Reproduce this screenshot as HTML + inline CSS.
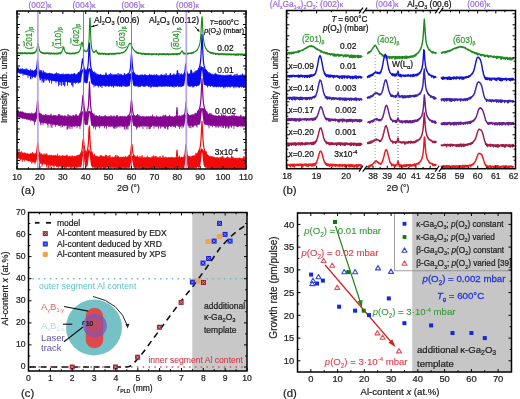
<!DOCTYPE html>
<html><head><meta charset="utf-8"><style>
html,body{margin:0;padding:0;background:#fff;}
svg{display:block;font-family:"Liberation Sans",sans-serif;filter:blur(0.35px);}
</style></head><body>
<svg xmlns="http://www.w3.org/2000/svg" width="520" height="399" viewBox="0 0 520 399">
<rect width="520" height="399" fill="#fff"/>
<clipPath id="ca"><rect x="17" y="11" width="229" height="158"/></clipPath>
<clipPath id="cb"><rect x="286.5" y="10.5" width="229" height="158.3"/></clipPath>
<polyline points="17,52.7 17.4,53.3 17.7,52.6 18.1,53.7 18.4,52.6 18.8,53.7 19.1,52.8 19.5,53.3 19.8,52.8 20.2,54 20.5,52.7 20.9,53.8 21.2,52.9 21.6,53.6 21.9,52.6 22.3,54 22.6,52.7 23,53.3 23.3,53 23.7,53.4 24,52.9 24.4,53.6 24.7,52.6 25.1,53.3 25.4,52.9 25.8,53.6 26.1,52.9 26.5,53.7 26.8,53 27.2,53.9 27.5,52.9 27.9,53.7 28.2,52.9 28.6,53.5 28.9,52.7 29.3,53.6 29.6,52.7 30,53.6 30.3,52.9 30.7,53.9 31,52.9 31.4,53.4 31.7,52.8 32.1,53.6 32.4,52.8 32.8,53.8 33.1,52.7 33.5,52.9 33.8,52.5 34.2,53.5 34.5,52.2 34.9,52.7 35.2,51.7 35.6,52.2 35.9,51.1 36.3,50.9 36.6,49.6 37,48.7 37.3,46.6 37.7,44.6 38,43.4 38.4,44.8 38.7,46.6 39.1,48.7 39.4,49.7 39.8,51.4 40.1,51.1 40.5,52.1 40.8,51.8 41.2,52.9 41.5,52.2 41.9,52.8 42.2,52.5 42.6,53.5 42.9,52.8 43.3,53.6 43.6,52.9 44,53.2 44.3,53 44.7,54 45,52.9 45.4,53.7 45.7,53 46.1,53.4 46.4,52.8 46.8,53.5 47.1,52.8 47.5,53.4 47.8,52.8 48.2,53.8 48.5,53.2 48.9,54 49.2,52.9 49.6,53.8 49.9,52.9 50.3,54.2 50.6,53.1 51,53.9 51.3,52.9 51.7,53.8 52,53.2 52.4,53.6 52.7,53.3 53.1,54 53.4,53.1 53.8,53.5 54.1,53.3 54.5,54.3 54.8,53 55.2,53.8 55.5,53.2 55.9,54 56.2,53 56.6,53.6 56.9,53.3 57.3,54.2 57.6,53.2 58,54 58.3,53 58.7,53.6 59,52.7 59.4,53.5 59.7,52.9 60.1,53.9 60.4,52.8 60.8,53.6 61.1,52.2 61.5,52.4 61.8,51.4 62.2,51.2 62.5,50 62.9,49.1 63.2,47.2 63.6,47.1 63.9,47.6 64.3,49.6 64.6,50.3 65,51.6 65.3,51.8 65.7,52.6 66,52.5 66.4,53.2 66.7,52.8 67.1,53.7 67.4,52.7 67.8,53.4 68.1,53.1 68.5,53.5 68.8,53.2 69.2,54 69.5,53.1 69.9,53.5 70.2,53.3 70.6,54 70.9,53.3 71.3,53.8 71.6,53.2 72,53.6 72.3,53 72.7,53.6 73,52.9 73.4,53.8 73.7,53.2 74.1,53.6 74.4,53 74.8,54 75.1,53.1 75.5,53.6 75.8,52.8 76.1,53.1 76.5,52.5 76.8,52.9 77.2,52.3 77.5,53 77.9,52.2 78.2,52.5 78.6,51.7 78.9,52.1 79.3,50.9 79.6,50.7 80,49.7 80.3,49 80.7,47.3 81,46 81.4,43.8 81.7,42.7 82.1,42.2 82.4,43.3 82.8,44.7 83.1,46.9 83.5,47.9 83.8,49.6 84.2,49.8 84.5,51 84.9,50.6 85.2,51.3 85.6,51 85.9,51.6 86.3,51.2 86.6,51.7 87,50.7 87.3,51 87.7,49.6 88,49.2 88.4,46.9 88.7,44.5 89.1,39 89.4,30.3 89.8,18.8 90.1,17.8 90.5,28.6 90.8,38.3 91.2,43.8 91.5,47.1 91.9,48.8 92.2,50.2 92.6,50.7 92.9,51.8 93.3,51.7 93.6,52.6 94,51.8 94.3,52.4 94.7,51.9 95,52 95.4,50.9 95.7,50.9 96.1,50 96.4,51.1 96.8,51.6 97.1,53 97.5,52.4 97.8,53.7 98.2,52.8 98.5,54.2 98.9,53.3 99.2,53.6 99.6,53.1 99.9,54.4 100.3,53.3 100.6,54.2 101,53.3 101.3,53.9 101.7,53.3 102,53.9 102.4,53.3 102.7,54 103.1,53.4 103.4,54.5 103.8,53.5 104.1,54 104.5,53.3 104.8,54.1 105.2,53.6 105.5,54.4 105.9,53.5 106.2,54.7 106.6,53.7 106.9,54.3 107.3,53.7 107.6,54.3 108,53.6 108.3,54.8 108.7,53.7 109,54.5 109.4,53.5 109.7,54.2 110.1,53.3 110.4,53.9 110.8,53.4 111.1,54 111.5,53.6 111.8,54.6 112.2,53.4 112.5,54 112.9,53.4 113.2,53.9 113.6,53.3 113.9,54.6 114.3,53.4 114.6,54 115,53.3 115.3,54 115.7,53.3 116,54.1 116.4,53.2 116.7,54 117.1,53.1 117.4,53.6 117.8,53 118.1,53.5 118.5,53 118.8,53.9 119.2,53.1 119.5,53.8 119.9,53.1 120.2,53.5 120.6,53 120.9,53.2 121.3,52.7 121.6,52.9 122,52.6 122.3,53.1 122.7,52.4 123,52.5 123.4,52 123.7,52.6 124.1,51.7 124.4,52 124.8,51.2 125.1,51.5 125.5,50.4 125.8,50.4 126.2,49.6 126.5,49.8 126.9,48.7 127.2,48.4 127.6,47.3 127.9,46.7 128.3,45.8 128.6,45.2 129,44.3 129.3,43.8 129.7,43.3 130,43.3 130.4,43.4 130.7,44 131.1,44.5 131.4,45.5 131.8,46 132.1,47.2 132.5,47.6 132.8,48.6 133.2,48.8 133.5,49.7 133.9,49.8 134.2,50.8 134.6,50.5 134.9,51.3 135.3,51.3 135.6,52.1 136,51.7 136.3,52.5 136.7,51.9 137,53.1 137.4,52.5 137.7,53.4 138.1,52.5 138.4,53.6 138.8,52.7 139.1,53.3 139.5,53.1 139.8,53.4 140.2,52.9 140.5,53.8 140.9,53 141.2,54.2 141.6,53.4 141.9,54.2 142.3,53.4 142.6,54.1 143,53.1 143.3,54.1 143.7,53.3 144,53.9 144.4,53.4 144.7,54.5 145.1,53.6 145.4,54.6 145.8,53.7 146.1,54.5 146.5,53.5 146.8,54.2 147.2,53.8 147.5,54.5 147.9,53.6 148.2,54.2 148.6,53.4 148.9,54.7 149.3,53.8 149.6,54.2 150,53.7 150.3,54.2 150.7,53.9 151,54.8 151.4,53.7 151.7,54.9 152.1,53.7 152.4,54.7 152.8,53.8 153.1,54.5 153.5,53.8 153.8,54.4 154.2,53.9 154.5,54.2 154.9,53.7 155.2,54.4 155.6,54 155.9,54.4 156.3,53.7 156.6,54.7 157,53.6 157.3,54.3 157.7,54 158,54.6 158.4,54 158.7,55.1 159.1,53.6 159.4,54.3 159.8,53.7 160.1,54.3 160.5,53.7 160.8,54.7 161.2,53.9 161.5,54.6 161.9,53.8 162.2,54.5 162.6,53.6 162.9,54.4 163.3,53.6 163.6,54.6 164,54 164.3,54.4 164.7,53.7 165,54.5 165.4,54 165.7,55 166.1,53.6 166.4,54.2 166.8,54 167.1,54.6 167.5,53.6 167.8,54.5 168.2,53.9 168.5,55 168.9,53.7 169.2,54.3 169.6,53.8 169.9,54.8 170.3,53.9 170.6,54.7 171,53.8 171.3,54.7 171.7,53.9 172,54.4 172.4,53.8 172.7,54.4 173.1,53.6 173.4,54.7 173.8,53.6 174.1,54.2 174.5,53.8 174.8,54.4 175.2,53.8 175.5,54.1 175.9,53.7 176.2,54.9 176.6,53.8 176.9,54.4 177.3,53.5 177.6,54.8 178,53.5 178.3,53.9 178.7,53.6 179,54.1 179.4,53.4 179.7,54.3 180.1,52.9 180.4,53.5 180.8,52.6 181.1,52.4 181.5,51.4 181.8,51.1 182.2,50.8 182.5,51.8 182.9,52 183.2,53 183.6,52.7 183.9,54.1 184.3,53 184.6,53.7 185,53.3 185.3,54.4 185.7,53.2 186,53.8 186.4,53.1 186.7,53.7 187.1,53.2 187.4,54.3 187.8,53.3 188.1,54.3 188.5,53.1 188.8,53.6 189.2,53.2 189.5,53.4 189.9,53 190.2,53.6 190.6,52.8 190.9,53.2 191.3,52.7 191.6,53.7 192,52.8 192.3,53 192.7,52.6 193,53.2 193.4,52.1 193.7,52.7 194.1,52.1 194.4,52.2 194.8,51.7 195.1,51.7 195.5,51.3 195.8,51.6 196.2,50.6 196.5,50.6 196.9,49.9 197.2,50.1 197.6,49.1 197.9,48.9 198.3,48 198.6,47.4 199,46.3 199.3,45.5 199.7,43.9 200,42.5 200.4,39.8 200.7,36.4 201.1,31.3 201.4,24.3 201.8,17.3 202.1,16.8 202.5,23.1 202.8,30.6 203.2,35.8 203.5,39.6 203.9,41.9 204.2,44 204.6,45.1 204.9,46.5 205.3,47 205.6,48.1 206,48.5 206.3,49.3 206.7,49.6 207,50.3 207.4,50.4 207.7,51.4 208.1,50.9 208.4,51.5 208.8,51.5 209.1,52.2 209.5,51.8 209.8,52.7 210.2,52.2 210.5,53.1 210.9,52.3 211.2,53.4 211.6,52.6 211.9,53.3 212.3,52.7 212.6,53.4 213,52.8 213.3,54 213.7,53 214,53.8 214.4,53.2 214.7,53.7 215.1,53.3 215.4,54.4 215.8,53.3 216.1,54.4 216.5,53.6 216.8,53.8 217.2,53.3 217.5,54 217.9,53.6 218.2,54.7 218.6,53.7 218.9,54.4 219.3,53.8 219.6,54.8 220,53.7 220.3,54.6 220.7,53.7 221,54.2 221.4,53.6 221.7,54.6 222.1,53.6 222.4,54.2 222.8,53.9 223.1,54.3 223.5,53.7 223.8,54.9 224.2,53.7 224.5,54.3 224.9,53.9 225.2,54.8 225.6,53.7 225.9,54.9 226.3,53.8 226.6,54.6 227,53.8 227.3,54.8 227.7,53.9 228,55.1 228.4,53.9 228.7,54.5 229.1,53.8 229.4,54.4 229.8,53.9 230.1,55.1 230.5,54.2 230.8,54.8 231.2,53.8 231.5,54.9 231.9,54.2 232.2,54.5 232.6,54 232.9,54.9 233.3,53.9 233.6,54.9 234,53.9 234.3,54.9 234.7,54.3 235,54.6 235.4,54.3 235.7,55.4 236.1,53.9 236.4,55.3 236.8,54.3 237.1,55 237.5,53.9 237.8,55.2 238.2,54 238.5,55.3 238.9,53.9 239.2,54.7 239.6,54.1 239.9,54.8 240.3,54 240.6,55.2 241,53.9 241.3,55 241.7,53.9 242,55.3 242.4,54.2 242.7,55 243.1,54 243.4,54.9 243.8,54.1 244.1,55.1 244.5,54.1 244.8,54.6 245.2,54.1 245.5,54.8 245.9,54.3" fill="none" stroke="#108a10" stroke-width="1.1" stroke-linejoin="round" clip-path="url(#ca)"/>
<polygon points="17,68.4 17.5,68.1 18,67.2 18.5,69.1 19,68.7 19.5,69.5 20,69.5 20.5,68.6 21,69 21.5,68.9 22,69.8 22.5,68.4 23,69.7 23.5,69.1 24,70.1 24.5,69.2 25,70.1 25.5,69.7 26,68.5 26.5,70.6 27,68.8 27.5,70.2 28,69.9 28.5,70.2 29,70.1 29.5,71 30,70.7 30.5,68.9 31,70.9 31.5,70.5 32,70.7 32.5,70.3 33,70.6 33.5,71.3 34,70.4 34.5,70.3 35,71.1 35.5,69.3 36,70.6 36.5,70.2 37,70.5 37.5,69.9 38,71.1 38.5,70.5 39,71 39.5,71.6 40,72 40.5,70.3 41,71.7 41.5,70.2 42,71.3 42.5,72.9 43,73.1 43.5,70.5 44,73.2 44.5,72.4 45,72 45.5,72.8 46,73.5 46.5,73.1 47,73.2 47.5,73.6 48,73.6 48.5,73.4 49,73.2 49.5,73.2 50,73.1 50.5,73.8 51,73.5 51.5,73.4 52,73.8 52.5,73.8 53,74.1 53.5,74.4 54,73.9 54.5,74 55,73.9 55.5,73.7 56,73.7 56.5,72.5 57,74.8 57.5,73.8 58,73 58.5,74.2 59,74.3 59.5,74.2 60,73.9 60.5,74.5 61,74.2 61.5,74.2 62,74 62.5,74.2 63,74.5 63.5,73.6 64,74.9 64.5,74.4 65,74.8 65.5,74 66,73.9 66.5,74.1 67,74.3 67.5,74.1 68,74.1 68.5,74 69,74.4 69.5,74.2 70,74.4 70.5,74.8 71,74.3 71.5,73.8 72,74.2 72.5,74.6 73,73.8 73.5,73.9 74,73.7 74.5,73 75,73.8 75.5,74.7 76,74.6 76.5,74.3 77,74.4 77.5,73.4 78,73.2 78.5,72.1 79,73.3 79.5,71.8 80,72.2 80.5,72.1 81,70.5 81.5,70.9 82,70.2 82.5,69.4 83,68.9 83.5,69.7 84,69.4 84.5,68.8 85,69.9 85.5,71.2 86,71.3 86.5,71 87,70.8 87.5,68.2 88,69.6 88.5,69 89,68.7 89.5,68 90,69.4 90.5,69.6 91,68.6 91.5,68.7 92,70.9 92.5,72.4 93,72.2 93.5,72 94,74 94.5,71.7 95,73.7 95.5,73 96,72.7 96.5,74.5 97,74.9 97.5,73.9 98,74.3 98.5,74.7 99,74.5 99.5,75 100,74.6 100.5,74.2 101,74.8 101.5,75 102,74.9 102.5,75.3 103,74.8 103.5,75.2 104,75.2 104.5,75.3 105,74.5 105.5,74.7 106,72.5 106.5,75.1 107,74.8 107.5,75.5 108,74.7 108.5,75.3 109,74.4 109.5,74.4 110,75.5 110.5,72.9 111,75.2 111.5,74.9 112,73.8 112.5,75.5 113,75.3 113.5,74.6 114,74.8 114.5,74.8 115,74.6 115.5,74.4 116,75.5 116.5,74.3 117,75.4 117.5,75.4 118,73.1 118.5,75.5 119,74.7 119.5,75 120,73.7 120.5,75 121,74.8 121.5,74.5 122,75.3 122.5,75.3 123,75.3 123.5,75.4 124,74.5 124.5,73 125,74.5 125.5,74.9 126,74.6 126.5,74.4 127,73.9 127.5,74.1 128,73.7 128.5,73.8 129,73.9 129.5,73.9 130,74.1 130.5,73.7 131,73.4 131.5,73.4 132,73.1 132.5,72.1 133,73.3 133.5,73.3 134,72.8 134.5,74.2 135,74.6 135.5,74.7 136,74.5 136.5,75.1 137,75.3 137.5,75 138,74.8 138.5,75.5 139,75.4 139.5,75.2 140,75.1 140.5,75.1 141,74.8 141.5,75.6 142,74.5 142.5,75 143,75.2 143.5,75.3 144,75.2 144.5,74.9 145,74.2 145.5,75.2 146,74.9 146.5,75.6 147,75.1 147.5,75.7 148,75 148.5,75.6 149,75.5 149.5,73.9 150,75.3 150.5,75.1 151,75.1 151.5,75 152,75 152.5,75.2 153,75.3 153.5,75 154,74.9 154.5,74.7 155,75.6 155.5,75.3 156,75.4 156.5,74.2 157,75.3 157.5,75.2 158,75.3 158.5,75.8 159,75.7 159.5,75.7 160,75.3 160.5,75.4 161,74.3 161.5,74.5 162,75.5 162.5,75 163,75.3 163.5,74.9 164,75.6 164.5,74.7 165,75.1 165.5,75.7 166,73.3 166.5,75.2 167,75.8 167.5,75.6 168,75.2 168.5,75.5 169,75.2 169.5,75.1 170,74 170.5,73 171,74.9 171.5,75.4 172,74.7 172.5,75.1 173,75 173.5,74.8 174,73.5 174.5,75.2 175,74.8 175.5,75.1 176,75.1 176.5,74 177,72.6 177.5,72.5 178,74.6 178.5,75.1 179,73.1 179.5,74.8 180,75.4 180.5,74.5 181,73.6 181.5,73.7 182,75.2 182.5,74.6 183,74.9 183.5,74.7 184,73.3 184.5,72.3 185,73.9 185.5,73.4 186,73.9 186.5,73.7 187,73 187.5,73.8 188,74 188.5,73.9 189,73.7 189.5,73.8 190,73.8 190.5,73.5 191,73.3 191.5,72.9 192,73.1 192.5,73.4 193,73.2 193.5,72.6 194,72.9 194.5,72.7 195,71.2 195.5,73.2 196,70.3 196.5,71.6 197,71.1 197.5,70.8 198,70.1 198.5,68 199,69.5 199.5,68.7 200,67.7 200.5,67.8 201,65.9 201.5,67.1 202,67 202.5,67.6 203,67.4 203.5,67.3 204,68.7 204.5,68.9 205,69.4 205.5,69.7 206,70 206.5,70.6 207,71.5 207.5,71.6 208,72 208.5,72.9 209,72.8 209.5,72.4 210,74 210.5,73.3 211,74.3 211.5,74.2 212,73.7 212.5,74.5 213,74.4 213.5,74.6 214,74.9 214.5,74 215,73.6 215.5,73.3 216,74.5 216.5,73.8 217,75 217.5,74.6 218,75.4 218.5,74.7 219,74.6 219.5,75 220,75.1 220.5,75 221,74.7 221.5,75.4 222,75.4 222.5,75.2 223,75.1 223.5,75.4 224,75.4 224.5,75.5 225,75.7 225.5,75.2 226,75.6 226.5,74.9 227,75.4 227.5,74.8 228,75.4 228.5,75 229,75.6 229.5,74.8 230,75.3 230.5,75 231,74.5 231.5,75.2 232,76 232.5,76.1 233,76 233.5,75.6 234,75.2 234.5,75.5 235,74.1 235.5,75.7 236,76.1 236.5,75.7 237,73.6 237.5,75.5 238,75.8 238.5,75.3 239,75.4 239.5,75.4 240,75.1 240.5,75.5 241,74.5 241.5,75.7 242,75.3 242.5,73.6 243,75.7 243.5,75.6 244,74.5 244.5,75.2 245,76.2 245.5,75.4 246,76 246,86.6 245.5,86.5 245,86.5 244.5,86.8 244,86.7 243.5,87.5 243,86.7 242.5,86.5 242,87.2 241.5,87.5 241,86.2 240.5,86.5 240,87.1 239.5,87.5 239,87.5 238.5,87.2 238,86.6 237.5,87 237,86.2 236.5,86.6 236,87.5 235.5,86.8 235,86.6 234.5,86.6 234,87.2 233.5,87 233,86.3 232.5,86.2 232,86.3 231.5,86.3 231,86.4 230.5,87.4 230,86.7 229.5,86.9 229,86.5 228.5,86.5 228,86.5 227.5,87.3 227,86.4 226.5,86.5 226,86.8 225.5,87.1 225,87.3 224.5,86.5 224,87.2 223.5,87.4 223,86.3 222.5,86.9 222,86 221.5,86.4 221,86.4 220.5,87.2 220,86.8 219.5,86.1 219,87.1 218.5,87.1 218,85.9 217.5,86.6 217,86.8 216.5,87 216,87 215.5,86.7 215,85.9 214.5,86.8 214,86.8 213.5,86.9 213,86.6 212.5,86.1 212,86.1 211.5,85.7 211,85.7 210.5,86.5 210,86.4 209.5,85.4 209,85.4 208.5,85.9 208,85.5 207.5,86.3 207,85.7 206.5,85.3 206,85.5 205.5,84.8 205,85 204.5,83.9 204,84.9 203.5,83.6 203,82.4 202.5,81.1 202,81.4 201.5,81.8 201,83.1 200.5,83.5 200,83.7 199.5,84.2 199,85.5 198.5,85.2 198,85 197.5,85.9 197,86 196.5,86.1 196,86.2 195.5,85.5 195,86.1 194.5,85.9 194,86.7 193.5,86.8 193,86 192.5,86.4 192,85.6 191.5,86.2 191,85.8 190.5,86.6 190,86.7 189.5,86.1 189,86.5 188.5,85.8 188,85.8 187.5,86.2 187,85.3 186.5,85.6 186,84.7 185.5,85.2 185,85.1 184.5,85.9 184,85.8 183.5,85.6 183,86 182.5,86.1 182,86.6 181.5,86.5 181,85.9 180.5,86.7 180,86.5 179.5,86.6 179,86.6 178.5,86.9 178,86.1 177.5,85.3 177,85.7 176.5,86.8 176,86.1 175.5,86.7 175,85.8 174.5,86 174,86 173.5,86.4 173,86.2 172.5,86.8 172,86.9 171.5,85.9 171,86 170.5,86.1 170,86.2 169.5,87 169,86 168.5,86.1 168,86 167.5,86.5 167,86.1 166.5,86 166,86.5 165.5,86.1 165,86 164.5,86.1 164,86.8 163.5,85.9 163,85.8 162.5,86.4 162,86.3 161.5,86.8 161,86.7 160.5,86.1 160,85.9 159.5,85.8 159,86.8 158.5,86.3 158,85.8 157.5,87 157,87 156.5,86.1 156,86.9 155.5,86.1 155,87 154.5,86.3 154,86.9 153.5,86.8 153,85.7 152.5,86 152,86.8 151.5,86.3 151,86.2 150.5,86.8 150,86.9 149.5,85.5 149,86.7 148.5,86.6 148,86.4 147.5,85.7 147,85.7 146.5,85.6 146,85.7 145.5,85.9 145,86.7 144.5,86.2 144,86.2 143.5,86.5 143,86.4 142.5,85.8 142,85.7 141.5,85.8 141,85.6 140.5,86.8 140,86.3 139.5,86.4 139,86.7 138.5,86.8 138,85.4 137.5,86.2 137,85.7 136.5,85.4 136,86.5 135.5,85.7 135,85.8 134.5,85.8 134,86.2 133.5,85.2 133,85.4 132.5,85.2 132,84 131.5,83.4 131,83.3 130.5,84.2 130,85.4 129.5,86 129,86.3 128.5,85.9 128,86.1 127.5,86.5 127,86 126.5,86.5 126,85.4 125.5,85.4 125,86.3 124.5,86 124,86.3 123.5,86.1 123,85.6 122.5,85.5 122,86.7 121.5,86.6 121,86.8 120.5,85.7 120,86.3 119.5,86.6 119,85.8 118.5,85.9 118,86.1 117.5,86.2 117,85.9 116.5,85.4 116,86.6 115.5,85.6 115,85.5 114.5,85.5 114,86.4 113.5,86.6 113,86.7 112.5,85.3 112,85.8 111.5,86.6 111,86.2 110.5,85.6 110,85.3 109.5,86.5 109,85.5 108.5,86.6 108,85.8 107.5,85.9 107,85.2 106.5,85.4 106,85.7 105.5,85.8 105,85.5 104.5,85.9 104,86 103.5,85.3 103,85.5 102.5,86 102,85.4 101.5,85.6 101,86.4 100.5,86.3 100,86.3 99.5,85 99,85.8 98.5,85.5 98,86.1 97.5,85.7 97,85.4 96.5,85 96,84.9 95.5,85.1 95,84.4 94.5,85.2 94,85.2 93.5,84.7 93,84.6 92.5,84.4 92,83.4 91.5,83 91,82.7 90.5,82.9 90,80.5 89.5,80.2 89,80.4 88.5,81.1 88,82.5 87.5,83 87,83 86.5,83 86,82.9 85.5,82.8 85,81.9 84.5,82.6 84,81.9 83.5,81.7 83,80.4 82.5,79.9 82,80.7 81.5,81.4 81,82 80.5,82.1 80,82.7 79.5,82.4 79,82.2 78.5,82.4 78,82.4 77.5,82 77,82.2 76.5,82.7 76,82.8 75.5,82.7 75,82.7 74.5,82.6 74,82.5 73.5,82.4 73,82.7 72.5,82.7 72,82.2 71.5,82 71,82.1 70.5,82.5 70,82.1 69.5,82.4 69,81.8 68.5,82.3 68,81.9 67.5,82.4 67,81.8 66.5,81.4 66,81.7 65.5,81.7 65,81.7 64.5,81.7 64,81.3 63.5,81.3 63,81.5 62.5,82 62,81.5 61.5,81.7 61,81.6 60.5,81.6 60,81.8 59.5,81.6 59,81.6 58.5,81.3 58,81.6 57.5,80.9 57,81.4 56.5,80.8 56,80.9 55.5,81 55,81.4 54.5,80.7 54,80.9 53.5,81 53,80.5 52.5,80.8 52,80.8 51.5,80.1 51,80.6 50.5,80.2 50,79.7 49.5,80.1 49,79.6 48.5,79.4 48,79.2 47.5,79.1 47,79.7 46.5,79.2 46,78.8 45.5,79.4 45,78.8 44.5,78.6 44,78.6 43.5,78.9 43,78.2 42.5,78.1 42,78.2 41.5,78.3 41,77.9 40.5,77.7 40,77.7 39.5,77.9 39,77.7 38.5,77.3 38,76 37.5,75.3 37,76.1 36.5,76.8 36,76.7 35.5,77 35,76.6 34.5,76.9 34,76.8 33.5,76.4 33,76.4 32.5,76.6 32,75.8 31.5,75.7 31,76.2 30.5,75.8 30,75.8 29.5,75.3 29,75.4 28.5,75.3 28,75.1 27.5,74.8 27,75 26.5,74.9 26,74.5 25.5,74.5 25,74.7 24.5,74.4 24,74.2 23.5,74.1 23,73.7 22.5,73.6 22,73.5 21.5,73.3 21,73.2 20.5,73.5 20,73.4 19.5,73.2 19,72.7 18.5,72.6 18,72.5 17.5,72.3 17,72.4" fill="#0a0af0" stroke="#0a0af0" stroke-width="0.6" stroke-linejoin="round" clip-path="url(#ca)"/>
<path d="M37.6,72.5L35.6,78.5L39.6,78.5Z" fill="#fff" clip-path="url(#ca)"/>
<path d="M82.5,71.3L80.5,84.4L84.5,84.4Z" fill="#fff" clip-path="url(#ca)"/>
<path d="M89.3,70.6L87.3,85.4L91.3,85.4Z" fill="#fff" clip-path="url(#ca)"/>
<path d="M131.5,75.7L129.5,87.3L133.5,87.3Z" fill="#fff" clip-path="url(#ca)"/>
<path d="M185.8,75.5L183.8,87.7L187.8,87.7Z" fill="#fff" clip-path="url(#ca)"/>
<path d="M202,69.1L200,87.8L204,87.8Z" fill="#fff" clip-path="url(#ca)"/>
<polyline points="35.5,70.7 36,70.1 36.5,68.6 37,65.7 37.5,59.5 38,63.4 38.5,68.3 39,70.2 39.5,71.1" fill="none" stroke="#0a0af0" stroke-width="1.2" stroke-linejoin="round" clip-path="url(#ca)"/>
<polyline points="79.5,72.3 80,72 80.5,71.5 81,69.6 81.5,67.1 82,62.4 82.5,58.8 83,61.6 83.5,65.5 84,68.1 84.5,69.5 85,70 85.5,70.9 86,70.9 86.5,70.3 87,69.5 87.5,68.6 88,65.8 88.5,59.6 89,45.7 89.5,43 90,57.5 90.5,64.8 91,68 91.5,70.5 92,71 92.5,71.9 93,73" fill="none" stroke="#0a0af0" stroke-width="1.2" stroke-linejoin="round" clip-path="url(#ca)"/>
<polyline points="127.5,74.2 128,73.7 128.5,73.5 129,73.1 129.5,71.9 130,70.5 130.5,67.4 131,59.9 131.5,53.9 132,60.1 132.5,66.6 133,70.4 133.5,72.4 134,73 134.5,73.7 135,74.5 135.5,74.3" fill="none" stroke="#0a0af0" stroke-width="1.2" stroke-linejoin="round" clip-path="url(#ca)"/>
<polyline points="177,72.3 177.5,70.6 178,74.6" fill="none" stroke="#0a0af0" stroke-width="1.2" stroke-linejoin="round" clip-path="url(#ca)"/>
<polyline points="183.5,74 184,74.1 184.5,73.1 185,71 185.5,65.5 186,63.7 186.5,70.1 187,72.6 187.5,73.8 188,73.5" fill="none" stroke="#0a0af0" stroke-width="1.2" stroke-linejoin="round" clip-path="url(#ca)"/>
<polyline points="190.5,73.5 191,70 191.5,70.9 192,73" fill="none" stroke="#0a0af0" stroke-width="1.2" stroke-linejoin="round" clip-path="url(#ca)"/>
<polyline points="197,71.7 197.5,70.8 198,70.6 198.5,69.7 199,68.4 199.5,67.1 200,65 200.5,61.5 201,55.8 201.5,44.2 202,34.7 202.5,44 203,55.4 203.5,62.1 204,65.4 204.5,67.2 205,68.8 205.5,69.4 206,70.3 206.5,71.1 207,71.5" fill="none" stroke="#0a0af0" stroke-width="1.2" stroke-linejoin="round" clip-path="url(#ca)"/>
<path d="M23,73.2V75.8M28,74.6V78.1M29.5,74.8V76.2M30.5,75.3V79.3M31,75.7V79.1M31.5,75.2V76.8M32.5,76.1V78.3M35,76.1V78M40,77.2V80.4M40.5,77.2V80.1M41,77.4V78.5M42,77.7V82.6M42.5,77.6V80.8M43,77.7V80.7M43.5,78.4V82.5M44,78.1V82.4M45,78.3V80.9M46.5,78.7V80.6M48.5,78.9V80.7M49,79.1V80.4M49.5,79.6V82.9M51.5,79.6V83.7M56,80.4V83.2M58.5,80.8V86.3M59,81.1V84.8M60,81.3V85M61,81.1V83M61.5,81.2V86M63,81V85.2M63.5,80.8V84.8M64.5,81.2V86.6M65,81.2V85.5M67.5,81.9V85.7M71.5,81.5V85.3M72.5,82.2V85.9M73,82.2V87.3M75.5,82.2V83.8M78.5,81.9V83.6M94,84.7V87.4M95.5,84.6V86.3M96,84.4V85.9M98.5,85V87.5M102,84.9V88M105.5,85.3V86.8M106.5,84.9V86.3M113.5,86.1V87.8M125.5,84.9V86.8M138,84.9V87M151,85.7V88.2M174,85.5V87.8M193,85.5V87.8M207.5,85.8V87.4M224,86.7V88.6M234,86.7V88.4" stroke="#0a0af0" stroke-width="0.8" fill="none" clip-path="url(#ca)"/>
<polygon points="17,111.5 17.5,110.3 18,110.2 18.5,111.8 19,111.4 19.5,111.9 20,112 20.5,111.4 21,111.5 21.5,112 22,111.6 22.5,111.8 23,111.9 23.5,112.1 24,112.9 24.5,113.1 25,112.8 25.5,113 26,113 26.5,113.4 27,113.3 27.5,113.4 28,113.1 28.5,113.5 29,112.9 29.5,113.8 30,113.7 30.5,113.8 31,113.9 31.5,112.7 32,114 32.5,113.4 33,113.8 33.5,113.9 34,113.2 34.5,113.2 35,113.2 35.5,113.1 36,113.5 36.5,112.2 37,113.4 37.5,113.2 38,113.7 38.5,113.4 39,113.5 39.5,113.8 40,113 40.5,114.3 41,113.9 41.5,113.8 42,114.7 42.5,115.2 43,115.5 43.5,114.8 44,114.8 44.5,115.4 45,115.6 45.5,114 46,115.7 46.5,114.8 47,115 47.5,115 48,115.7 48.5,114.9 49,115.6 49.5,115.9 50,115.1 50.5,115.5 51,113.8 51.5,115.4 52,115.7 52.5,115.9 53,115.4 53.5,115.2 54,115.8 54.5,115.1 55,115.9 55.5,115.4 56,115.3 56.5,116.2 57,115.9 57.5,116 58,115.9 58.5,114 59,115.7 59.5,114.2 60,115.4 60.5,115.4 61,116.1 61.5,115.6 62,116.3 62.5,115.4 63,116.2 63.5,116 64,116.6 64.5,115.4 65,116.3 65.5,115.7 66,116.4 66.5,116.4 67,116.4 67.5,116.7 68,114 68.5,115.9 69,116.8 69.5,116 70,115 70.5,116.8 71,116 71.5,115.9 72,116.5 72.5,116.5 73,115 73.5,115.6 74,115.6 74.5,116 75,116.3 75.5,114.6 76,116 76.5,114.3 77,115.7 77.5,115.9 78,116.1 78.5,115.9 79,115.5 79.5,114.2 80,113.6 80.5,113.7 81,112.7 81.5,112 82,112.2 82.5,111.6 83,111.4 83.5,111.3 84,111 84.5,111.4 85,112.8 85.5,112.3 86,112.9 86.5,113.2 87,112.3 87.5,112.8 88,111.3 88.5,111.1 89,111.2 89.5,111 90,111.2 90.5,111.9 91,111.9 91.5,112.7 92,113.6 92.5,113.6 93,114.2 93.5,115.3 94,113.6 94.5,115.4 95,115.8 95.5,115.8 96,115.5 96.5,115.6 97,115.8 97.5,116.6 98,115.8 98.5,117 99,116.6 99.5,114.9 100,116.5 100.5,116.9 101,116.5 101.5,116.1 102,116.1 102.5,117 103,116.3 103.5,116.8 104,116.2 104.5,116.8 105,115.2 105.5,116.3 106,115.9 106.5,116.6 107,116.4 107.5,116.7 108,117.1 108.5,116.3 109,116.3 109.5,116.1 110,117.3 110.5,117 111,115.3 111.5,116.4 112,116.5 112.5,116.2 113,116.9 113.5,116.7 114,115.6 114.5,116.4 115,116.3 115.5,117.2 116,116.4 116.5,115.2 117,117 117.5,115 118,116.8 118.5,116.9 119,117.3 119.5,116.5 120,116.1 120.5,116.1 121,116.8 121.5,116.2 122,116.7 122.5,116.3 123,116.5 123.5,117.2 124,116.1 124.5,116.3 125,116.4 125.5,116.7 126,116.6 126.5,116.9 127,116.4 127.5,115.8 128,115.4 128.5,115.9 129,115.5 129.5,115.9 130,115.8 130.5,115.8 131,115.5 131.5,115 132,115.2 132.5,115.8 133,115.2 133.5,115.5 134,115.6 134.5,115.9 135,115.7 135.5,116.5 136,115.7 136.5,115.1 137,116.1 137.5,114 138,116.3 138.5,116.5 139,114.7 139.5,116.9 140,116.2 140.5,116.2 141,116.3 141.5,116.7 142,117 142.5,115.9 143,116.8 143.5,116.7 144,116.3 144.5,116.8 145,116.9 145.5,117 146,117 146.5,116.1 147,116.7 147.5,116.6 148,116.7 148.5,116.4 149,116.4 149.5,116.7 150,116.6 150.5,116.2 151,116.1 151.5,116.6 152,117 152.5,114.6 153,116.3 153.5,116.7 154,117 154.5,116.4 155,117 155.5,117.2 156,116.9 156.5,115.5 157,116.4 157.5,117.1 158,116.5 158.5,117.1 159,116.8 159.5,117.1 160,116.5 160.5,116.3 161,117.1 161.5,117 162,117 162.5,115.7 163,116.4 163.5,116.2 164,115 164.5,116.4 165,116.2 165.5,114.7 166,116.1 166.5,116.5 167,116.7 167.5,116.8 168,116.1 168.5,116.5 169,116.2 169.5,114.9 170,116.4 170.5,116.5 171,116.2 171.5,117 172,116.7 172.5,116.3 173,116.5 173.5,117 174,116.9 174.5,116.2 175,116.3 175.5,116.2 176,116 176.5,114.7 177,114.4 177.5,115.3 178,115.4 178.5,116.2 179,116.4 179.5,115.6 180,115.6 180.5,116.1 181,116.4 181.5,115.9 182,114.8 182.5,115.5 183,115.7 183.5,114.8 184,115.6 184.5,114.6 185,115.2 185.5,115 186,114.5 186.5,114.8 187,114.4 187.5,114.8 188,114.6 188.5,114.5 189,115.1 189.5,115.8 190,115.2 190.5,115.2 191,115.3 191.5,114.8 192,114.6 192.5,114.5 193,115.4 193.5,114.3 194,114.9 194.5,114.8 195,112.9 195.5,113.3 196,113.7 196.5,113.1 197,113.3 197.5,111.8 198,111 198.5,110.7 199,110.7 199.5,110.3 200,108.9 200.5,108.2 201,107.9 201.5,108.3 202,108.7 202.5,108.1 203,108.8 203.5,108.6 204,108.9 204.5,108.4 205,110.6 205.5,110.7 206,111 206.5,112.1 207,111.6 207.5,113.3 208,114.1 208.5,114.2 209,114 209.5,113.2 210,114.7 210.5,114.6 211,113.1 211.5,115 212,115 212.5,114.9 213,115 213.5,115.2 214,115.7 214.5,115.7 215,116.2 215.5,115.5 216,116.3 216.5,115.8 217,115.9 217.5,116.3 218,115.8 218.5,116.1 219,115 219.5,116.2 220,115.9 220.5,116.6 221,115.9 221.5,114.3 222,115.7 222.5,116.7 223,114.5 223.5,115.2 224,115.8 224.5,115.8 225,116.3 225.5,114.8 226,116.6 226.5,116.5 227,116.4 227.5,116.4 228,115.9 228.5,116.7 229,116.4 229.5,115.8 230,116 230.5,116.3 231,116 231.5,116.4 232,114.8 232.5,116.3 233,116.1 233.5,116.9 234,114.1 234.5,115.3 235,116.7 235.5,116.6 236,116 236.5,115.9 237,116.1 237.5,116.6 238,116.4 238.5,116.4 239,116.4 239.5,116.8 240,116 240.5,115.4 241,114.8 241.5,116.6 242,117 242.5,116.7 243,116.9 243.5,116.1 244,117 244.5,116.8 245,116.9 245.5,116.4 246,116.5 246,125.6 245.5,125.7 245,125.5 244.5,126.4 244,126.3 243.5,125.7 243,125.4 242.5,126 242,125.2 241.5,126.1 241,126.1 240.5,126.2 240,126.1 239.5,125.4 239,125.6 238.5,125.5 238,126.4 237.5,125.4 237,125.5 236.5,126.5 236,125.7 235.5,126 235,125.9 234.5,125.6 234,126 233.5,125.8 233,125.6 232.5,125.9 232,125.3 231.5,126 231,126.3 230.5,125.6 230,125.5 229.5,125.5 229,125.9 228.5,125.8 228,125.4 227.5,126.3 227,125.4 226.5,126.5 226,125.4 225.5,126.4 225,126.4 224.5,125.5 224,125.4 223.5,126.3 223,126.4 222.5,126 222,126 221.5,125.5 221,125.5 220.5,125.6 220,126 219.5,126.3 219,125.3 218.5,125.6 218,126.4 217.5,125.3 217,125.6 216.5,125.3 216,126 215.5,126.1 215,125.9 214.5,125.6 214,126 213.5,125.3 213,125.6 212.5,125.6 212,125.2 211.5,125.8 211,126 210.5,125.9 210,125 209.5,124.8 209,125.3 208.5,125.2 208,125 207.5,124.9 207,125.2 206.5,124.5 206,124.1 205.5,123.9 205,124.7 204.5,124.3 204,123.6 203.5,122.8 203,122.8 202.5,121.4 202,121 201.5,120.8 201,122.1 200.5,123.4 200,123.5 199.5,124.5 199,124 198.5,124.5 198,124.9 197.5,124.6 197,125.2 196.5,124.8 196,125 195.5,124.9 195,124.7 194.5,125.5 194,125.3 193.5,125.4 193,125.6 192.5,125.9 192,125.2 191.5,125.1 191,125.5 190.5,125.5 190,126.1 189.5,125.7 189,125.5 188.5,125.7 188,125.2 187.5,126.1 187,125.6 186.5,125.2 186,123.5 185.5,124.8 185,124.7 184.5,125.5 184,125.6 183.5,125.3 183,125.8 182.5,125.8 182,125.7 181.5,125.7 181,125.5 180.5,126.5 180,126.2 179.5,125.9 179,126.4 178.5,126.2 178,126.4 177.5,125.4 177,124.4 176.5,125.6 176,125.8 175.5,126 175,126.5 174.5,125.6 174,126.3 173.5,126.4 173,125.6 172.5,125.6 172,125.7 171.5,125.9 171,126.4 170.5,126.4 170,125.9 169.5,125.5 169,125.9 168.5,126.5 168,126.5 167.5,126.5 167,126 166.5,126.6 166,125.7 165.5,125.7 165,125.8 164.5,126.4 164,126.1 163.5,126.4 163,126.5 162.5,125.9 162,126.3 161.5,126.4 161,125.8 160.5,126 160,125.9 159.5,125.8 159,126.6 158.5,125.5 158,126 157.5,125.7 157,126.7 156.5,125.9 156,125.6 155.5,125.8 155,126.6 154.5,125.6 154,125.9 153.5,125.7 153,125.6 152.5,125.6 152,126 151.5,125.9 151,126.6 150.5,126.3 150,126.7 149.5,126.5 149,125.8 148.5,126 148,126.4 147.5,125.7 147,126.7 146.5,125.6 146,125.9 145.5,126.4 145,125.7 144.5,125.8 144,126.3 143.5,125.6 143,125.8 142.5,126.2 142,125.6 141.5,126.4 141,126.5 140.5,126 140,126.2 139.5,125.9 139,126.4 138.5,125.6 138,125.9 137.5,126.7 137,126.4 136.5,126.3 136,126.4 135.5,126.2 135,126.4 134.5,125.6 134,126.1 133.5,125.7 133,125.6 132.5,125 132,123.8 131.5,123.1 131,123.9 130.5,125.5 130,125.5 129.5,125.5 129,126.1 128.5,125.4 128,126.2 127.5,126.1 127,126.4 126.5,125.6 126,126.5 125.5,125.7 125,126.6 124.5,126.7 124,125.7 123.5,126.7 123,126.4 122.5,126.3 122,126.7 121.5,125.8 121,125.8 120.5,125.9 120,125.8 119.5,126 119,125.9 118.5,126.6 118,126.2 117.5,125.9 117,126.8 116.5,125.8 116,126.7 115.5,126.7 115,126.8 114.5,126.4 114,126.5 113.5,125.6 113,125.8 112.5,126 112,126.2 111.5,125.9 111,126.3 110.5,126.7 110,125.7 109.5,126.1 109,125.8 108.5,126.5 108,125.6 107.5,125.7 107,126.1 106.5,125.9 106,126.6 105.5,125.9 105,126.1 104.5,125.7 104,126.1 103.5,125.8 103,125.8 102.5,125.9 102,125.9 101.5,126 101,126.1 100.5,125.7 100,126.4 99.5,125.7 99,125.9 98.5,126.3 98,125.8 97.5,125.8 97,126.4 96.5,126.4 96,125.8 95.5,126.3 95,126.1 94.5,126.5 94,125.7 93.5,126.3 93,126.3 92.5,125.5 92,126 91.5,125.3 91,124.5 90.5,124.1 90,122.7 89.5,121.3 89,122.6 88.5,123.9 88,124.7 87.5,124.3 87,124.7 86.5,124.7 86,124.7 85.5,124.7 85,124.5 84.5,124.1 84,123.9 83.5,123.5 83,122.8 82.5,123.7 82,124.2 81.5,125.1 81,124.6 80.5,125.7 80,126.2 79.5,126.2 79,126.2 78.5,125.8 78,125.4 77.5,125.9 77,126.2 76.5,125.4 76,126.1 75.5,125.5 75,125.6 74.5,126.4 74,126 73.5,126.3 73,126 72.5,126.3 72,126.5 71.5,125.3 71,125.9 70.5,126.2 70,126.1 69.5,126.1 69,125.2 68.5,125.3 68,126 67.5,126 67,126 66.5,125.3 66,125.5 65.5,125.3 65,125.5 64.5,125.1 64,126.1 63.5,125.2 63,125.6 62.5,125.4 62,124.8 61.5,125 61,125.2 60.5,124.9 60,125.4 59.5,124.8 59,124.7 58.5,125.7 58,124.8 57.5,124.7 57,124.4 56.5,125.1 56,125 55.5,125 55,124.5 54.5,124.5 54,124 53.5,124.4 53,124.6 52.5,124.7 52,124.3 51.5,123.6 51,124.3 50.5,124.4 50,123.3 49.5,123.5 49,123.5 48.5,123.6 48,123.9 47.5,123.9 47,123.3 46.5,123.3 46,123.1 45.5,123.1 45,123.4 44.5,122.7 44,123 43.5,123.1 43,123.1 42.5,122.8 42,122.8 41.5,122.6 41,122.1 40.5,122.7 40,122.4 39.5,122.1 39,121.7 38.5,121.8 38,120.6 37.5,119.8 37,120.5 36.5,121.5 36,121.5 35.5,121.6 35,121.2 34.5,121.4 34,120.5 33.5,120.9 33,120.3 32.5,120.4 32,120.5 31.5,119.9 31,120.3 30.5,119.7 30,120.1 29.5,120.1 29,119.5 28.5,119.9 28,119.2 27.5,119.2 27,119.2 26.5,119.4 26,118.7 25.5,118.7 25,119 24.5,118.8 24,118.6 23.5,118.8 23,118.1 22.5,118.4 22,118 21.5,118 21,118 20.5,117.8 20,117.7 19.5,117.8 19,117 18.5,117.1 18,117.1 17.5,117.3 17,116.7" fill="#860590" stroke="#860590" stroke-width="0.6" stroke-linejoin="round" clip-path="url(#ca)"/>
<path d="M37.6,115.1L35.6,122.9L39.6,122.9Z" fill="#fff" clip-path="url(#ca)"/>
<path d="M83,113L81,127.5L85,127.5Z" fill="#fff" clip-path="url(#ca)"/>
<path d="M89.5,112.5L87.5,127.5L91.5,127.5Z" fill="#fff" clip-path="url(#ca)"/>
<path d="M131.5,117.3L129.5,127.3L133.5,127.3Z" fill="#fff" clip-path="url(#ca)"/>
<path d="M186,116.7L184,127.2L188,127.2Z" fill="#fff" clip-path="url(#ca)"/>
<path d="M202,110.1L200,127.1L204,127.1Z" fill="#fff" clip-path="url(#ca)"/>
<polyline points="35.5,113.2 36,112.4 36.5,111.2 37,107.2 37.5,100.9 38,104.6 38.5,110.3 39,112.7 39.5,113.5 40,114.2" fill="none" stroke="#860590" stroke-width="1.2" stroke-linejoin="round" clip-path="url(#ca)"/>
<polyline points="79.5,114.3 80,113.9 80.5,113.6 81,112.2 81.5,109.7 82,106.2 82.5,99.9 83,95.3 83.5,99.8 84,106 84.5,109.6 85,111.2 85.5,112.3 86,112.5 86.5,112.1 87,111.9 87.5,110.4 88,108.7 88.5,104.5 89,94.5 89.5,81.9 90,94.1 90.5,104.6 91,109 91.5,111.9 92,113.2 92.5,113.5 93,114.4" fill="none" stroke="#860590" stroke-width="1.2" stroke-linejoin="round" clip-path="url(#ca)"/>
<polyline points="128,115.9 128.5,115.6 129,114.9 129.5,114.4 130,113.4 130.5,110 131,104.3 131.5,99.5 132,104.6 132.5,110.3 133,112.6 133.5,114.8 134,115.3 134.5,115.9 135,116" fill="none" stroke="#860590" stroke-width="1.2" stroke-linejoin="round" clip-path="url(#ca)"/>
<polyline points="176.5,114.6 177,107.6 177.5,114.6" fill="none" stroke="#860590" stroke-width="1.2" stroke-linejoin="round" clip-path="url(#ca)"/>
<polyline points="183.5,115.6 184,115 184.5,114 185,112.7 185.5,108.2 186,102.1 186.5,107.5 187,112.4 187.5,114.1 188,115.1 188.5,115.1" fill="none" stroke="#860590" stroke-width="1.2" stroke-linejoin="round" clip-path="url(#ca)"/>
<polyline points="197,112.4 197.5,112.3 198,111.1 198.5,110.7 199,109.6 199.5,108.4 200,106.6 200.5,103.5 201,98 201.5,87.8 202,78.5 202.5,87.6 203,98 203.5,103.5 204,106.3 204.5,108.1 205,109.8 205.5,110.9 206,111.8 206.5,112.3" fill="none" stroke="#860590" stroke-width="1.2" stroke-linejoin="round" clip-path="url(#ca)"/>
<path d="M30.5,119.2V120.9M34,120V122.1M34.5,120.9V124.8M40.5,122.2V124.4M41,121.6V125.4M43,122.6V125.3M47.5,123.4V125M48,123.4V127.5M51,123.8V127.4M52,123.8V127.9M54,123.5V124.6M55.5,124.5V126.8M58,124.3V125.3M59.5,124.3V126M61,124.7V127.7M62.5,124.9V127M64.5,124.6V126.3M67,125.5V129.8M67.5,125.5V129.3M68,125.5V128.5M69,124.7V128.4M70,125.6V129.2M71.5,124.8V127M72,126V129.1M75,125.1V127M77,125.7V128.3M77.5,125.4V126.4M78,124.9V126.2M80,125.7V129M93.5,125.8V128.5M95.5,125.8V129.6M98,125.3V126.6M99.5,125.2V128.4M104.5,125.2V128.3M106.5,125.4V128.9M109,125.3V127M112,125.7V127.2M113.5,125.1V128.1M114,126V128.9M114.5,125.9V128.4M116,126.2V128.7M117,126.3V128.2M120,125.3V127.7M124.5,126.2V129.1M125,126.1V130M126.5,125.1V128.7M127,125.9V129.4M128,125.7V129.5M136.5,125.8V129.6M137.5,126.2V128.2M138,125.4V126.6M139,125.9V127.4M139.5,125.4V127.3M143,125.3V129.1M144.5,125.3V126.5M147,126.2V129.2M149,125.3V129.1M149.5,126V129.2M150.5,125.8V128.8M151.5,125.4V127M154,125.4V128.6M156,125.1V127.2M158.5,125V128.7M160.5,125.5V128.6M162,125.8V127.6M164.5,125.9V128.2M165,125.3V128.6M165.5,125.2V128.6M167.5,126V129.3M168,126V129.4M171.5,125.4V126.7M173,125.1V126.7M174.5,125.1V126.7M175.5,125.5V127.9M179.5,125.4V129M180,125.7V126.8M182,125.2V128.4M183.5,124.8V127.4M189,125V127.8M190,125.6V128.1M191,125V128.3M192,124.7V126.4M192.5,125.4V127.1M193,125.1V127.5M193.5,124.9V126.7M196,124.5V126.1M196.5,124.3V126.2M197,124.7V127.6M206,123.6V124.7M209,124.8V128.3M212.5,125.1V127.2M216,125.5V127.9M217,125.1V127.1M218.5,125.1V127.8M220.5,125.1V126.9M222,125.5V128.2M223.5,125.8V128M225.5,125.9V128.7M226,124.9V128M228,124.9V127.8M228.5,125.3V128.8M229,125.4V128.3M230,125V127M231.5,125.5V127.8M234,125.5V129M237,125V126.3M237.5,124.9V127.1M238.5,125V127.1M239.5,124.9V126.3M242,124.7V127.1M243,124.9V127M245.5,125.2V128.5M246,125.1V126.8" stroke="#860590" stroke-width="0.8" fill="none" clip-path="url(#ca)"/>
<polygon points="17,151.5 17.5,151.7 18,151.9 18.5,152.8 19,151.3 19.5,152.5 20,152.1 20.5,152.4 21,152.5 21.5,151.3 22,152.4 22.5,152.8 23,153.5 23.5,152.7 24,153.7 24.5,152.6 25,153.3 25.5,152.8 26,153.5 26.5,153.9 27,153.6 27.5,153.5 28,154.1 28.5,154 29,154.1 29.5,154 30,154.1 30.5,153.4 31,152.9 31.5,154.3 32,153.6 32.5,152 33,154.5 33.5,153.5 34,153.6 34.5,154.5 35,153.2 35.5,153.7 36,152.9 36.5,153.2 37,153.6 37.5,153.7 38,153.5 38.5,153.8 39,153.7 39.5,153.8 40,152.4 40.5,155 41,154.2 41.5,153.4 42,154.7 42.5,154.6 43,155.1 43.5,155.6 44,153.4 44.5,155.6 45,154.5 45.5,154.6 46,153.5 46.5,154.8 47,153.7 47.5,155.8 48,155.4 48.5,155.5 49,155.4 49.5,154.8 50,156 50.5,155.5 51,155.2 51.5,154.9 52,155.4 52.5,155.7 53,155.9 53.5,155.5 54,155.7 54.5,155.4 55,156.1 55.5,155.2 56,155.5 56.5,156.1 57,156.1 57.5,153.7 58,156.1 58.5,156.4 59,155.6 59.5,155.9 60,155.5 60.5,156.1 61,156.3 61.5,156.3 62,155.5 62.5,155.5 63,155.5 63.5,155.9 64,155.7 64.5,156.1 65,155.8 65.5,155.9 66,156.1 66.5,156.1 67,154.6 67.5,156.1 68,156.6 68.5,156.4 69,156 69.5,156.2 70,156.2 70.5,156.4 71,155.7 71.5,156.7 72,156.2 72.5,155.8 73,156.2 73.5,156.4 74,156.3 74.5,156.1 75,156.7 75.5,155.9 76,156.7 76.5,155.6 77,155.7 77.5,155.3 78,155.6 78.5,155 79,154.8 79.5,155.2 80,154.2 80.5,154.3 81,153.5 81.5,153.3 82,151.7 82.5,151 83,151.4 83.5,150.7 84,151.3 84.5,150.4 85,152 85.5,152.8 86,152 86.5,151.9 87,152.5 87.5,151.6 88,151.1 88.5,150.8 89,149.3 89.5,150.4 90,151.6 90.5,151.8 91,151.9 91.5,153 92,151.5 92.5,153.9 93,154.6 93.5,155.3 94,156.1 94.5,153.8 95,156.5 95.5,155.8 96,156.3 96.5,156.3 97,155.9 97.5,156.6 98,156.7 98.5,157 99,156.6 99.5,157.2 100,156.3 100.5,155 101,157.1 101.5,155.3 102,156.9 102.5,156.3 103,157.2 103.5,155.9 104,156.4 104.5,157.4 105,156 105.5,154.8 106,156.6 106.5,155 107,157.5 107.5,157.1 108,155.6 108.5,156.8 109,157.6 109.5,155.8 110,155.1 110.5,157.4 111,157.4 111.5,157.5 112,157.5 112.5,156.7 113,157.5 113.5,157.3 114,157.5 114.5,157.1 115,157.1 115.5,155.1 116,157.3 116.5,157.6 117,155.2 117.5,156.9 118,157.1 118.5,156.3 119,156.6 119.5,157.6 120,157.7 120.5,157.1 121,156.8 121.5,157 122,157.5 122.5,157 123,157.3 123.5,156.7 124,157.3 124.5,157.3 125,156.9 125.5,155.9 126,157.4 126.5,157.4 127,156.7 127.5,156.8 128,156.6 128.5,156.2 129,154.8 129.5,155.6 130,155.7 130.5,155.7 131,156.4 131.5,155.5 132,156 132.5,156.2 133,155.6 133.5,155.8 134,155.6 134.5,156.5 135,155.8 135.5,156.7 136,157.1 136.5,156.7 137,157.1 137.5,155.4 138,156.8 138.5,157 139,157.5 139.5,157.5 140,156.1 140.5,157.2 141,157.9 141.5,157.4 142,155.3 142.5,155.9 143,157.9 143.5,157.7 144,157.8 144.5,157.2 145,157.3 145.5,157.8 146,157.9 146.5,157.1 147,157.5 147.5,155.7 148,157.7 148.5,157.5 149,157.1 149.5,157.6 150,157.5 150.5,157.7 151,157.9 151.5,157.5 152,156.3 152.5,157 153,157.4 153.5,155.8 154,155.6 154.5,157.5 155,158.1 155.5,156 156,158.2 156.5,156.3 157,157.3 157.5,157.3 158,157.6 158.5,157.6 159,158.1 159.5,157.2 160,156.1 160.5,157.1 161,157.4 161.5,157.7 162,157.9 162.5,157.5 163,155.4 163.5,157.4 164,158.1 164.5,157.5 165,157.7 165.5,157.1 166,156.8 166.5,157.6 167,157.7 167.5,157.9 168,157.7 168.5,157 169,158.1 169.5,157.7 170,157 170.5,158.1 171,157.7 171.5,157.3 172,157.1 172.5,157.5 173,157.6 173.5,157.4 174,157.7 174.5,157.8 175,157.6 175.5,157.6 176,157.1 176.5,156.2 177,156.4 177.5,156 178,157.5 178.5,156.8 179,157.5 179.5,155.7 180,157.5 180.5,157.9 181,157.1 181.5,157.1 182,157 182.5,157.5 183,156.9 183.5,157 184,156.8 184.5,155.7 185,155.8 185.5,156.4 186,155.5 186.5,155.7 187,156.3 187.5,155.4 188,156 188.5,157 189,156.1 189.5,156.5 190,156.3 190.5,156.7 191,156.9 191.5,157 192,155.9 192.5,155.9 193,155.9 193.5,155.8 194,155.5 194.5,155.4 195,155.3 195.5,155.4 196,152.8 196.5,154.1 197,153.6 197.5,153.5 198,152.7 198.5,150.2 199,151.1 199.5,150.9 200,150.7 200.5,150.4 201,149.2 201.5,148.5 202,149.2 202.5,149.5 203,150.1 203.5,150.7 204,150.9 204.5,151.6 205,150.9 205.5,151.6 206,151.1 206.5,154 207,154.1 207.5,154.8 208,155.1 208.5,156 209,155.6 209.5,156.2 210,156.5 210.5,156.1 211,156.5 211.5,156.7 212,156.3 212.5,156.9 213,156.5 213.5,156.9 214,156.9 214.5,157.2 215,157.4 215.5,157.8 216,157.5 216.5,157.4 217,157.4 217.5,157.3 218,157.3 218.5,158 219,158.2 219.5,158.2 220,157 220.5,158.2 221,157.4 221.5,157.9 222,156.2 222.5,157.5 223,156.3 223.5,158.4 224,157.5 224.5,158.3 225,158.6 225.5,158 226,157.8 226.5,157.6 227,157.7 227.5,156.5 228,157.1 228.5,158.2 229,157.7 229.5,158.3 230,157.7 230.5,158.8 231,157.7 231.5,155.6 232,156.9 232.5,156.9 233,157.4 233.5,157.7 234,158.1 234.5,158.3 235,158.3 235.5,158.4 236,157.7 236.5,158.7 237,158 237.5,158.6 238,158.7 238.5,157.8 239,158.5 239.5,157.9 240,157.6 240.5,158.5 241,158.8 241.5,158.3 242,158.2 242.5,158.3 243,157.8 243.5,157.2 244,156 244.5,158.6 245,157.6 245.5,158 246,157.9 246,169 245.5,169 245,169 244.5,169 244,168.9 243.5,169 243,168.9 242.5,169 242,168.9 241.5,168.8 241,168.8 240.5,169 240,168.4 239.5,169 239,168.7 238.5,168.1 238,169 237.5,168.5 237,168.8 236.5,168.9 236,168.5 235.5,168.7 235,168.9 234.5,168.5 234,168.8 233.5,169 233,168.9 232.5,168.8 232,169 231.5,168.3 231,168.8 230.5,168.1 230,169 229.5,169 229,168 228.5,168.4 228,168.7 227.5,169 227,168.2 226.5,168.5 226,167.9 225.5,169 225,168.5 224.5,168.1 224,168.5 223.5,169 223,168.6 222.5,168.6 222,168.1 221.5,169 221,169 220.5,168.5 220,169 219.5,168.1 219,168.9 218.5,168.8 218,167.8 217.5,169 217,168.9 216.5,168.1 216,167.8 215.5,167.7 215,168.5 214.5,168.9 214,167.9 213.5,168.6 213,168.9 212.5,168 212,168.1 211.5,167.6 211,167.4 210.5,168 210,168.6 209.5,167.8 209,168.2 208.5,167.4 208,167.9 207.5,168.2 207,167.3 206.5,167.4 206,167.3 205.5,167.1 205,166.5 204.5,166.5 204,166.1 203.5,165.1 203,164.5 202.5,163 202,163.8 201.5,162.9 201,165.1 200.5,165.7 200,165.5 199.5,166.9 199,167.2 198.5,167.2 198,166.9 197.5,166.5 197,166.7 196.5,167.7 196,167.9 195.5,167.7 195,167.7 194.5,167.8 194,168 193.5,167.7 193,168.3 192.5,168.2 192,167.7 191.5,168.1 191,168.5 190.5,167.8 190,168 189.5,167.4 189,167.6 188.5,168.6 188,168.4 187.5,167.2 187,167.2 186.5,166.4 186,166.6 185.5,166.3 185,167 184.5,167.9 184,168.2 183.5,167.6 183,168.6 182.5,168.1 182,168.5 181.5,168.1 181,167.4 180.5,168.3 180,168.6 179.5,167.5 179,168.4 178.5,168.1 178,167.9 177.5,167.8 177,167.2 176.5,167.5 176,168.6 175.5,168 175,168.1 174.5,167.9 174,168.7 173.5,167.7 173,168 172.5,167.9 172,167.6 171.5,168.8 171,167.5 170.5,167.4 170,168.5 169.5,167.4 169,167.7 168.5,168.2 168,167.7 167.5,168.6 167,168.1 166.5,168.7 166,168.8 165.5,167.5 165,168.4 164.5,167.7 164,168.5 163.5,168.7 163,167.7 162.5,168.1 162,168.6 161.5,167.4 161,167.6 160.5,167.8 160,167.8 159.5,168.4 159,168.5 158.5,167.6 158,167.7 157.5,168.3 157,168.1 156.5,167.4 156,168.6 155.5,167.5 155,168.3 154.5,168.1 154,168.4 153.5,167.7 153,168.2 152.5,168.3 152,168.3 151.5,168.4 151,168.5 150.5,168.3 150,168.6 149.5,168.3 149,168.3 148.5,167.6 148,168.4 147.5,167.4 147,168 146.5,167.3 146,167.6 145.5,167.7 145,167.8 144.5,168.2 144,168.3 143.5,167.7 143,167.4 142.5,168.3 142,167.6 141.5,168 141,168.4 140.5,167.3 140,167.9 139.5,167.3 139,167.7 138.5,168.1 138,168.2 137.5,167.1 137,168.1 136.5,167.4 136,167.8 135.5,167.4 135,167.5 134.5,167.3 134,168.2 133.5,167.2 133,166.6 132.5,166 132,165.5 131.5,166 131,166.2 130.5,167.6 130,167.1 129.5,168 129,167.5 128.5,167.4 128,167.6 127.5,167.2 127,167.7 126.5,167.6 126,167.7 125.5,167.5 125,168.3 124.5,168.1 124,167.7 123.5,167.2 123,167.5 122.5,167.2 122,168.3 121.5,168.1 121,167.5 120.5,168.3 120,167.1 119.5,167.6 119,168 118.5,168.3 118,168.1 117.5,168.1 117,168.1 116.5,167.4 116,167.3 115.5,167.5 115,167.5 114.5,167.7 114,167.1 113.5,167.7 113,167.7 112.5,167.9 112,167.1 111.5,167.4 111,167.7 110.5,167.9 110,167.6 109.5,167.3 109,167.6 108.5,167.8 108,167.4 107.5,167.1 107,166.9 106.5,167 106,168.1 105.5,167.7 105,168.2 104.5,166.9 104,167.4 103.5,167.8 103,168.1 102.5,166.9 102,167.2 101.5,167.3 101,167.7 100.5,166.9 100,167.8 99.5,167.5 99,167.2 98.5,168 98,166.9 97.5,167.7 97,166.8 96.5,166.9 96,166.9 95.5,167.7 95,166.6 94.5,167.3 94,167.2 93.5,167.3 93,166.8 92.5,166.3 92,166.3 91.5,165.7 91,165.8 90.5,166 90,164.6 89.5,162.6 89,162.5 88.5,164.5 88,165.2 87.5,166 87,166.4 86.5,166.4 86,165.8 85.5,166.4 85,165.6 84.5,164.9 84,165.5 83.5,163.8 83,163.8 82.5,165.6 82,165.4 81.5,166.2 81,166.5 80.5,167 80,167.2 79.5,166.8 79,166.3 78.5,167.1 78,167.4 77.5,167.2 77,166.9 76.5,167.4 76,166.6 75.5,167 75,167 74.5,166.8 74,166.9 73.5,166.4 73,167.4 72.5,166.5 72,167.3 71.5,167.2 71,167.3 70.5,166.7 70,166.3 69.5,167.3 69,166.4 68.5,167.3 68,166.5 67.5,166.6 67,167 66.5,167.1 66,167.2 65.5,167.1 65,166.9 64.5,166 64,166.8 63.5,165.8 63,166.7 62.5,165.9 62,166.9 61.5,166.8 61,165.8 60.5,165.8 60,166.8 59.5,165.9 59,166.4 58.5,166.5 58,166.2 57.5,166.4 57,166.5 56.5,165.3 56,165.8 55.5,165.2 55,165.6 54.5,166.1 54,166 53.5,165.7 53,165 52.5,165.3 52,165.4 51.5,165.4 51,164.4 50.5,165.5 50,164.8 49.5,164.8 49,164.8 48.5,164.7 48,164.3 47.5,164.9 47,164.6 46.5,164.8 46,164.6 45.5,164 45,163.8 44.5,164.1 44,164.3 43.5,163.7 43,163.6 42.5,163.7 42,163.9 41.5,163.4 41,163.1 40.5,163.7 40,163 39.5,163.2 39,162.3 38.5,162.1 38,161.3 37.5,160.8 37,162.1 36.5,162.4 36,161.9 35.5,161.9 35,162.5 34.5,161.7 34,162.5 33.5,162 33,161.5 32.5,161.5 32,161.1 31.5,161.8 31,161.5 30.5,161.3 30,161.4 29.5,160.8 29,161.2 28.5,161 28,161.1 27.5,160.3 27,160.6 26.5,160.3 26,159.8 25.5,159.8 25,160 24.5,159.6 24,160 23.5,159.8 23,160 22.5,159.8 22,159.3 21.5,159.2 21,158.9 20.5,158.7 20,158.9 19.5,159.1 19,158.3 18.5,158.3 18,158.4 17.5,158.1 17,157.9" fill="#f00a0a" stroke="#f00a0a" stroke-width="0.6" stroke-linejoin="round" clip-path="url(#ca)"/>
<path d="M37.8,155.2L35.8,164L39.8,164Z" fill="#fff" clip-path="url(#ca)"/>
<path d="M83.3,153L81.3,168.5L85.3,168.5Z" fill="#fff" clip-path="url(#ca)"/>
<path d="M89.3,152.6L87.3,168.6L91.3,168.6Z" fill="#fff" clip-path="url(#ca)"/>
<path d="M131.8,157.9L129.8,169L133.8,169Z" fill="#fff" clip-path="url(#ca)"/>
<path d="M186,157.9L184,169L188,169Z" fill="#fff" clip-path="url(#ca)"/>
<path d="M202,151.6L200,169L204,169Z" fill="#fff" clip-path="url(#ca)"/>
<polyline points="35.5,153.6 36,153.4 36.5,152.4 37,149.8 37.5,144.1 38,143.2 38.5,149.3 39,152.3 39.5,153.8 40,154.4" fill="none" stroke="#f00a0a" stroke-width="1.2" stroke-linejoin="round" clip-path="url(#ca)"/>
<polyline points="80,154.6 80.5,154.1 81,152.9 81.5,151.9 82,149.9 82.5,146 83,140.2 83.5,139.2 84,144.3 84.5,148.4 85,150.3 85.5,151.6 86,152 86.5,152.2 87,151.5 87.5,150.3 88,147.2 88.5,141.5 89,128.3 89.5,126.1 90,140.3 90.5,147.7 91,150.4 91.5,152.7 92,153.3 92.5,154.1 93,154.7" fill="none" stroke="#f00a0a" stroke-width="1.2" stroke-linejoin="round" clip-path="url(#ca)"/>
<polyline points="129,156 129.5,155.9 130,154.9 130.5,153.7 131,150 131.5,145.4 132,144.6 132.5,149.9 133,153.2 133.5,154.6 134,155.9 134.5,156 135,156.4" fill="none" stroke="#f00a0a" stroke-width="1.2" stroke-linejoin="round" clip-path="url(#ca)"/>
<polyline points="176.5,156.1 177,150 177.5,156.1" fill="none" stroke="#f00a0a" stroke-width="1.2" stroke-linejoin="round" clip-path="url(#ca)"/>
<polyline points="184,156.2 184.5,155.3 185,154.3 185.5,149.6 186,144.6 186.5,149.9 187,154.1 187.5,155.8 188,156.2 188.5,156.8" fill="none" stroke="#f00a0a" stroke-width="1.2" stroke-linejoin="round" clip-path="url(#ca)"/>
<polyline points="197.5,153.4 198,152.8 198.5,152.2 199,151.2 199.5,149.6 200,147.9 200.5,145.2 201,140 201.5,129.5 202,121.3 202.5,129.7 203,139.4 203.5,145 204,148.4 204.5,149.7 205,151.6 205.5,152.3 206,152.7 206.5,153.7" fill="none" stroke="#f00a0a" stroke-width="1.2" stroke-linejoin="round" clip-path="url(#ca)"/>
<path d="M20.5,158.2V160.4M22.5,159.3V162M24.5,159.1V161.6M31.5,161.3V163.6M32.5,161V162.8M35,162V164.5M39.5,162.7V166.2M42,163.4V166.9M42.5,163.2V165.3M46.5,164.3V166.5M47,164.1V168.5M48.5,164.2V168.1M49,164.3V168.1M51,163.9V167.8M53,164.5V166.9M54,165.5V169M56.5,164.8V167.1M58.5,166V167.8M61.5,166.3V169M62,166.4V168.6M62.5,165.4V168.1M64.5,165.5V169M65,166.4V169M66,166.7V169M70.5,166.2V169M72,166.8V168M74.5,166.3V169M75,166.5V169M76,166.1V169M92.5,165.8V167.9M94.5,166.8V169M95,166.1V167.3M96,166.4V169M100.5,166.4V169M101.5,166.8V168.3M103.5,167.3V169M104,166.9V169M104.5,166.4V169M105,167.7V169M108.5,167.3V169M109,167.1V168.5M111,167.2V169M114.5,167.2V169M116,166.8V169M118.5,167.8V169M119,167.5V169M119.5,167.1V169M121,167V168.7M121.5,167.6V169M123,167V169M126,167.2V169M128,167.1V169M135.5,166.9V168.5M136,167.3V169M139.5,166.8V168.2M143,166.9V169M143.5,167.2V168.5M145.5,167.2V169M146,167.1V169M146.5,166.8V169M148,167.9V169M149.5,167.8V169M151,168V169M151.5,167.9V169M153,167.7V169M156,168.1V169M157.5,167.8V169M160.5,167.3V168.4M161.5,166.9V169M162,168.1V169M162.5,167.6V169M165,167.9V169M166.5,168.2V169M167.5,168.1V169M168,167.2V169M168.5,167.7V169M169,167.2V169M171,167V169M174,168.2V169M182.5,167.6V168.7M183.5,167.1V169M184,167.7V169M188,167.9V169M194,167.5V169M196.5,167.2V168.4M206,166.8V169M208,167.4V169M212,167.6V169M214.5,168.4V169M215,168V169M216,167.3V168.4M216.5,167.6V169M218,167.3V169M219,168.4V169M220.5,168V169M221,168.5V169M222,167.6V169M225,168V169M226.5,168V169M227,167.7V169M229.5,168.5V169M232,168.5V169M232.5,168.3V169M235,168.4V169M235.5,168.2V169M236.5,168.4V169M237,168.3V169M238,168.5V169M241,168.3V169M243,168.4V169M243.5,168.5V169" stroke="#f00a0a" stroke-width="0.8" fill="none" clip-path="url(#ca)"/>
<line x1="37.9" y1="11" x2="37.9" y2="169" stroke="#b9a0e0" stroke-width="1.6"/>
<line x1="83.5" y1="11" x2="83.5" y2="169" stroke="#8e72dc" stroke-width="1.1"/>
<line x1="131.5" y1="11" x2="131.5" y2="169" stroke="#8e72dc" stroke-width="1.1"/>
<line x1="186.3" y1="11" x2="186.3" y2="169" stroke="#b9a0e0" stroke-width="1.7"/>
<rect x="17" y="11" width="229" height="158" fill="none" stroke="#000" stroke-width="1.5"/>
<line x1="17" y1="169" x2="17" y2="166" stroke="#000" stroke-width="1"/>
<line x1="17" y1="11" x2="17" y2="14" stroke="#000" stroke-width="1"/>
<line x1="28.4" y1="169" x2="28.4" y2="167.2" stroke="#000" stroke-width="1"/>
<line x1="28.4" y1="11" x2="28.4" y2="12.8" stroke="#000" stroke-width="1"/>
<line x1="39.9" y1="169" x2="39.9" y2="166" stroke="#000" stroke-width="1"/>
<line x1="39.9" y1="11" x2="39.9" y2="14" stroke="#000" stroke-width="1"/>
<line x1="51.4" y1="169" x2="51.4" y2="167.2" stroke="#000" stroke-width="1"/>
<line x1="51.4" y1="11" x2="51.4" y2="12.8" stroke="#000" stroke-width="1"/>
<line x1="62.8" y1="169" x2="62.8" y2="166" stroke="#000" stroke-width="1"/>
<line x1="62.8" y1="11" x2="62.8" y2="14" stroke="#000" stroke-width="1"/>
<line x1="74.2" y1="169" x2="74.2" y2="167.2" stroke="#000" stroke-width="1"/>
<line x1="74.2" y1="11" x2="74.2" y2="12.8" stroke="#000" stroke-width="1"/>
<line x1="85.7" y1="169" x2="85.7" y2="166" stroke="#000" stroke-width="1"/>
<line x1="85.7" y1="11" x2="85.7" y2="14" stroke="#000" stroke-width="1"/>
<line x1="97.2" y1="169" x2="97.2" y2="167.2" stroke="#000" stroke-width="1"/>
<line x1="97.2" y1="11" x2="97.2" y2="12.8" stroke="#000" stroke-width="1"/>
<line x1="108.6" y1="169" x2="108.6" y2="166" stroke="#000" stroke-width="1"/>
<line x1="108.6" y1="11" x2="108.6" y2="14" stroke="#000" stroke-width="1"/>
<line x1="120" y1="169" x2="120" y2="167.2" stroke="#000" stroke-width="1"/>
<line x1="120" y1="11" x2="120" y2="12.8" stroke="#000" stroke-width="1"/>
<line x1="131.5" y1="169" x2="131.5" y2="166" stroke="#000" stroke-width="1"/>
<line x1="131.5" y1="11" x2="131.5" y2="14" stroke="#000" stroke-width="1"/>
<line x1="142.9" y1="169" x2="142.9" y2="167.2" stroke="#000" stroke-width="1"/>
<line x1="142.9" y1="11" x2="142.9" y2="12.8" stroke="#000" stroke-width="1"/>
<line x1="154.4" y1="169" x2="154.4" y2="166" stroke="#000" stroke-width="1"/>
<line x1="154.4" y1="11" x2="154.4" y2="14" stroke="#000" stroke-width="1"/>
<line x1="165.8" y1="169" x2="165.8" y2="167.2" stroke="#000" stroke-width="1"/>
<line x1="165.8" y1="11" x2="165.8" y2="12.8" stroke="#000" stroke-width="1"/>
<line x1="177.3" y1="169" x2="177.3" y2="166" stroke="#000" stroke-width="1"/>
<line x1="177.3" y1="11" x2="177.3" y2="14" stroke="#000" stroke-width="1"/>
<line x1="188.8" y1="169" x2="188.8" y2="167.2" stroke="#000" stroke-width="1"/>
<line x1="188.8" y1="11" x2="188.8" y2="12.8" stroke="#000" stroke-width="1"/>
<line x1="200.2" y1="169" x2="200.2" y2="166" stroke="#000" stroke-width="1"/>
<line x1="200.2" y1="11" x2="200.2" y2="14" stroke="#000" stroke-width="1"/>
<line x1="211.7" y1="169" x2="211.7" y2="167.2" stroke="#000" stroke-width="1"/>
<line x1="211.7" y1="11" x2="211.7" y2="12.8" stroke="#000" stroke-width="1"/>
<line x1="223.1" y1="169" x2="223.1" y2="166" stroke="#000" stroke-width="1"/>
<line x1="223.1" y1="11" x2="223.1" y2="14" stroke="#000" stroke-width="1"/>
<line x1="234.6" y1="169" x2="234.6" y2="167.2" stroke="#000" stroke-width="1"/>
<line x1="234.6" y1="11" x2="234.6" y2="12.8" stroke="#000" stroke-width="1"/>
<line x1="246" y1="169" x2="246" y2="166" stroke="#000" stroke-width="1"/>
<line x1="246" y1="11" x2="246" y2="14" stroke="#000" stroke-width="1"/>
<line x1="17" y1="14" x2="20" y2="14" stroke="#000" stroke-width="1"/>
<line x1="246" y1="14" x2="243" y2="14" stroke="#000" stroke-width="1"/>
<line x1="17" y1="17" x2="18.8" y2="17" stroke="#000" stroke-width="1"/>
<line x1="246" y1="17" x2="244.2" y2="17" stroke="#000" stroke-width="1"/>
<line x1="17" y1="24.5" x2="20" y2="24.5" stroke="#000" stroke-width="1"/>
<line x1="246" y1="24.5" x2="243" y2="24.5" stroke="#000" stroke-width="1"/>
<line x1="17" y1="27.5" x2="18.8" y2="27.5" stroke="#000" stroke-width="1"/>
<line x1="246" y1="27.5" x2="244.2" y2="27.5" stroke="#000" stroke-width="1"/>
<line x1="17" y1="34.5" x2="20" y2="34.5" stroke="#000" stroke-width="1"/>
<line x1="246" y1="34.5" x2="243" y2="34.5" stroke="#000" stroke-width="1"/>
<line x1="17" y1="37.5" x2="18.8" y2="37.5" stroke="#000" stroke-width="1"/>
<line x1="246" y1="37.5" x2="244.2" y2="37.5" stroke="#000" stroke-width="1"/>
<line x1="17" y1="45" x2="20" y2="45" stroke="#000" stroke-width="1"/>
<line x1="246" y1="45" x2="243" y2="45" stroke="#000" stroke-width="1"/>
<line x1="17" y1="48" x2="18.8" y2="48" stroke="#000" stroke-width="1"/>
<line x1="246" y1="48" x2="244.2" y2="48" stroke="#000" stroke-width="1"/>
<line x1="17" y1="55.5" x2="20" y2="55.5" stroke="#000" stroke-width="1"/>
<line x1="246" y1="55.5" x2="243" y2="55.5" stroke="#000" stroke-width="1"/>
<line x1="17" y1="58.5" x2="18.8" y2="58.5" stroke="#000" stroke-width="1"/>
<line x1="246" y1="58.5" x2="244.2" y2="58.5" stroke="#000" stroke-width="1"/>
<line x1="17" y1="66" x2="20" y2="66" stroke="#000" stroke-width="1"/>
<line x1="246" y1="66" x2="243" y2="66" stroke="#000" stroke-width="1"/>
<line x1="17" y1="69" x2="18.8" y2="69" stroke="#000" stroke-width="1"/>
<line x1="246" y1="69" x2="244.2" y2="69" stroke="#000" stroke-width="1"/>
<line x1="17" y1="76.5" x2="20" y2="76.5" stroke="#000" stroke-width="1"/>
<line x1="246" y1="76.5" x2="243" y2="76.5" stroke="#000" stroke-width="1"/>
<line x1="17" y1="79.5" x2="18.8" y2="79.5" stroke="#000" stroke-width="1"/>
<line x1="246" y1="79.5" x2="244.2" y2="79.5" stroke="#000" stroke-width="1"/>
<line x1="17" y1="87" x2="20" y2="87" stroke="#000" stroke-width="1"/>
<line x1="246" y1="87" x2="243" y2="87" stroke="#000" stroke-width="1"/>
<line x1="17" y1="90" x2="18.8" y2="90" stroke="#000" stroke-width="1"/>
<line x1="246" y1="90" x2="244.2" y2="90" stroke="#000" stroke-width="1"/>
<line x1="17" y1="97.5" x2="20" y2="97.5" stroke="#000" stroke-width="1"/>
<line x1="246" y1="97.5" x2="243" y2="97.5" stroke="#000" stroke-width="1"/>
<line x1="17" y1="100.5" x2="18.8" y2="100.5" stroke="#000" stroke-width="1"/>
<line x1="246" y1="100.5" x2="244.2" y2="100.5" stroke="#000" stroke-width="1"/>
<line x1="17" y1="108" x2="20" y2="108" stroke="#000" stroke-width="1"/>
<line x1="246" y1="108" x2="243" y2="108" stroke="#000" stroke-width="1"/>
<line x1="17" y1="111" x2="18.8" y2="111" stroke="#000" stroke-width="1"/>
<line x1="246" y1="111" x2="244.2" y2="111" stroke="#000" stroke-width="1"/>
<line x1="17" y1="118.5" x2="20" y2="118.5" stroke="#000" stroke-width="1"/>
<line x1="246" y1="118.5" x2="243" y2="118.5" stroke="#000" stroke-width="1"/>
<line x1="17" y1="121.5" x2="18.8" y2="121.5" stroke="#000" stroke-width="1"/>
<line x1="246" y1="121.5" x2="244.2" y2="121.5" stroke="#000" stroke-width="1"/>
<line x1="17" y1="129" x2="20" y2="129" stroke="#000" stroke-width="1"/>
<line x1="246" y1="129" x2="243" y2="129" stroke="#000" stroke-width="1"/>
<line x1="17" y1="132" x2="18.8" y2="132" stroke="#000" stroke-width="1"/>
<line x1="246" y1="132" x2="244.2" y2="132" stroke="#000" stroke-width="1"/>
<line x1="17" y1="139.5" x2="20" y2="139.5" stroke="#000" stroke-width="1"/>
<line x1="246" y1="139.5" x2="243" y2="139.5" stroke="#000" stroke-width="1"/>
<line x1="17" y1="142.5" x2="18.8" y2="142.5" stroke="#000" stroke-width="1"/>
<line x1="246" y1="142.5" x2="244.2" y2="142.5" stroke="#000" stroke-width="1"/>
<line x1="17" y1="150" x2="20" y2="150" stroke="#000" stroke-width="1"/>
<line x1="246" y1="150" x2="243" y2="150" stroke="#000" stroke-width="1"/>
<line x1="17" y1="153" x2="18.8" y2="153" stroke="#000" stroke-width="1"/>
<line x1="246" y1="153" x2="244.2" y2="153" stroke="#000" stroke-width="1"/>
<line x1="17" y1="160.5" x2="20" y2="160.5" stroke="#000" stroke-width="1"/>
<line x1="246" y1="160.5" x2="243" y2="160.5" stroke="#000" stroke-width="1"/>
<line x1="17" y1="163.5" x2="18.8" y2="163.5" stroke="#000" stroke-width="1"/>
<line x1="246" y1="163.5" x2="244.2" y2="163.5" stroke="#000" stroke-width="1"/>
<text x="17" y="179.8" font-size="8.7" fill="#222" stroke="#222" stroke-width="0.22" text-anchor="middle">10</text>
<text x="39.9" y="179.8" font-size="8.7" fill="#222" stroke="#222" stroke-width="0.22" text-anchor="middle">20</text>
<text x="62.8" y="179.8" font-size="8.7" fill="#222" stroke="#222" stroke-width="0.22" text-anchor="middle">30</text>
<text x="85.7" y="179.8" font-size="8.7" fill="#222" stroke="#222" stroke-width="0.22" text-anchor="middle">40</text>
<text x="108.6" y="179.8" font-size="8.7" fill="#222" stroke="#222" stroke-width="0.22" text-anchor="middle">50</text>
<text x="131.5" y="179.8" font-size="8.7" fill="#222" stroke="#222" stroke-width="0.22" text-anchor="middle">60</text>
<text x="154.4" y="179.8" font-size="8.7" fill="#222" stroke="#222" stroke-width="0.22" text-anchor="middle">70</text>
<text x="177.3" y="179.8" font-size="8.7" fill="#222" stroke="#222" stroke-width="0.22" text-anchor="middle">80</text>
<text x="200.2" y="179.8" font-size="8.7" fill="#222" stroke="#222" stroke-width="0.22" text-anchor="middle">90</text>
<text x="223.1" y="179.8" font-size="8.7" fill="#222" stroke="#222" stroke-width="0.22" text-anchor="middle">100</text>
<text x="246" y="179.8" font-size="8.7" fill="#222" stroke="#222" stroke-width="0.22" text-anchor="middle">110</text>
<text x="128.5" y="191" font-size="8.4" fill="#222" stroke="#222" stroke-width="0.22" text-anchor="middle">2&#920; (&#176;)</text>
<text x="21.1" y="194.3" font-size="11.3" fill="#222" stroke="#222" stroke-width="0.22" text-anchor="start">(a)</text>
<text transform="translate(7,85.8) rotate(-90)" font-size="8.5" fill="#222" stroke="#222" stroke-width="0.22" text-anchor="middle">Intensity (arb. units)</text>
<text x="40" y="8.1" font-size="8.4" fill="#9a6ee0" stroke="#9a6ee0" stroke-width="0.22" text-anchor="middle">(002)<tspan font-size="7" dy="0.3">&#954;</tspan></text>
<text x="84" y="8.1" font-size="8.4" fill="#9a6ee0" stroke="#9a6ee0" stroke-width="0.22" text-anchor="middle">(004)<tspan font-size="7" dy="0.3">&#954;</tspan></text>
<text x="133" y="8.1" font-size="8.4" fill="#9a6ee0" stroke="#9a6ee0" stroke-width="0.22" text-anchor="middle">(006)<tspan font-size="7" dy="0.3">&#954;</tspan></text>
<text x="187.5" y="8.1" font-size="8.4" fill="#9a6ee0" stroke="#9a6ee0" stroke-width="0.22" text-anchor="middle">(008)<tspan font-size="7" dy="0.3">&#954;</tspan></text>
<text x="94" y="22.8" font-size="8.6" fill="#111" stroke="#111" stroke-width="0.22" text-anchor="start">Al<tspan font-size="5.5" dy="2">2</tspan><tspan dy="-2">O</tspan><tspan font-size="5.5" dy="2">3</tspan><tspan dy="-2"> (00.6)</tspan></text>
<text x="149" y="22.5" font-size="8.6" fill="#111" stroke="#111" stroke-width="0.22" text-anchor="start">Al<tspan font-size="5.5" dy="2">2</tspan><tspan dy="-2">O</tspan><tspan font-size="5.5" dy="2">3</tspan><tspan dy="-2"> (00.12)</tspan></text>
<line x1="91.5" y1="26.8" x2="98.2" y2="24.8" stroke="#000" stroke-width="1"/>
<path d="M90.8,27.1 L93.6,25.0 L94.1,27.0 Z" fill="#000"/>
<line x1="194.8" y1="26.7" x2="199" y2="31" stroke="#000" stroke-width="0.9"/>
<path d="M199.8,31.9 L196.9,30.6 L198.5,29.1 Z" fill="#000"/>
<text x="209.6" y="24.5" font-size="7.4" fill="#111" stroke="#111" stroke-width="0.22" text-anchor="start"><tspan font-style="italic">T</tspan>=600&#176;C</text>
<text x="204.3" y="32.7" font-size="7.1" fill="#111" stroke="#111" stroke-width="0.22" text-anchor="start"><tspan font-style="italic">p</tspan>(O<tspan font-size="4.8" dy="1.8">2</tspan><tspan dy="-1.8">) (mbar)</tspan></text>
<text x="225.5" y="50.6" font-size="8.4" fill="#111" stroke="#111" stroke-width="0.22" text-anchor="middle">0.02</text>
<text x="225.5" y="72.5" font-size="8.4" fill="#111" stroke="#111" stroke-width="0.22" text-anchor="middle">0.01</text>
<text x="225.5" y="113.5" font-size="8.4" fill="#111" stroke="#111" stroke-width="0.22" text-anchor="middle">0.002</text>
<text x="226.4" y="154.9" font-size="8.4" fill="#111" stroke="#111" stroke-width="0.22" text-anchor="middle">3x10<tspan font-size="5.5" dy="-3">-4</tspan></text>
<text transform="translate(31.8,38) rotate(-90)" font-size="8.3" fill="#2e9a2e" stroke="#2e9a2e" stroke-width="0.22" text-anchor="middle">(<tspan text-decoration="overline">2</tspan>01)<tspan font-size="5" dy="1.5">&#946;</tspan></text>
<text transform="translate(60.8,38) rotate(-90)" font-size="8.3" fill="#2e9a2e" stroke="#2e9a2e" stroke-width="0.22" text-anchor="middle">(<tspan text-decoration="overline">1</tspan>10)<tspan font-size="5" dy="1.5">&#946;</tspan></text>
<text transform="translate(78.5,35) rotate(-90)" font-size="8.3" fill="#2e9a2e" stroke="#2e9a2e" stroke-width="0.22" text-anchor="middle">(<tspan text-decoration="overline">4</tspan>02)<tspan font-size="5" dy="1.5">&#946;</tspan></text>
<text transform="translate(124.6,37.5) rotate(-90)" font-size="8.3" fill="#2e9a2e" stroke="#2e9a2e" stroke-width="0.22" text-anchor="middle">(<tspan text-decoration="overline">6</tspan>03)<tspan font-size="5" dy="1.5">&#946;</tspan></text>
<text transform="translate(179,38.5) rotate(-90)" font-size="8.3" fill="#2e9a2e" stroke="#2e9a2e" stroke-width="0.22" text-anchor="middle">(<tspan text-decoration="overline">8</tspan>04)<tspan font-size="5" dy="1.5">&#946;</tspan></text>
<polyline points="287,52.5 287.5,54.4 288,52.8 288.5,53.5 289,52.6 289.5,54.1 290,52.4 290.5,53.4 291,52.2 291.5,53.7 292,52.5 292.5,53.2 293,52.3 293.5,53.6 294,52.1 294.5,52.8 295,51.8 295.5,52.6 296,52 296.5,52.5 297,51.7 297.5,52.1 298,51.1 298.5,52.5 299,50.8 299.5,51.7 300,50.8 300.5,51.1 301,50.4 301.5,50.5 302,50.1 302.5,50.2 303,49.6 303.5,50.1 304,49 304.5,49.1 305,48.4 305.5,48.6 306,47.8 306.5,48.3 307,47.2 307.5,47.5 308,46.6 308.5,46.9 309,46.1 309.5,46.4 310,46 310.5,46.5 311,45.8 311.5,46.4 312,45.8 312.5,46.6 313,46.2 313.5,47 314,46.7 314.5,47.8 315,47.5 315.5,48.4 316,47.9 316.5,49.2 317,48.6 317.5,49.9 318,49.4 318.5,50 319,49.8 319.5,50.6 320,50.3 320.5,51.8 321,50.8 321.5,52.1 322,51.4 322.5,52 323,51.9 323.5,52.9 324,52 324.5,52.8 325,52.5 325.5,53.6 326,52.5 326.5,53.8 327,52.7 327.5,54 328,53.4 328.5,53.9 329,53.5 329.5,54.3 330,53.8 330.5,54.9 331,54 331.5,54.6 332,53.7 332.5,55 333,54.1 333.5,55.7 334,53.9 334.5,56 335,54.2 335.5,55.9 336,54.4 336.5,56 337,54.5 337.5,55.1 338,54.3 338.5,56 339,54.5 339.5,56 340,54.9 340.5,55.7 341,54.5 341.5,55.5 342,55.1 342.5,55.6 343,55.2 343.5,56.8 344,55.3 344.5,56 345,54.8 345.5,56.4 346,54.9 346.5,56.4 347,54.9 347.5,56 348,54.9 348.5,56 349,55.5 349.5,57.2 350,55.5 350.5,57.2 351,55.2 351.5,57.3 352,55.1 352.5,57.5 353,55.8 353.5,57.3 354,55.2 354.5,57.2 355,55.7 355.5,57.3 356,55.6 356.5,56.6 357,55.7 357.5,57.4 358,55.3 358.5,57.7 359,55.7 359.5,57.3 360,56 360.5,57.3 361,55.8 361.5,56.8 362,55.9" fill="none" stroke="#228a22" stroke-width="1.45" stroke-linejoin="round" clip-path="url(#cb)"/>
<polyline points="367.3,52.6 367.8,53.6 368.3,52.2 368.8,53 369.3,51.7 369.8,52.4 370.3,51.3 370.8,51.5 371.3,50.3 371.8,50 372.3,48.8 372.8,48.6 373.3,47.2 373.8,47.2 374.3,45.7 374.8,45.9 375.3,45.2 375.8,46.1 376.3,46.3 376.8,48 377.3,48.2 377.8,49.6 378.3,50.2 378.8,51.6 379.3,51.9 379.8,53.6 380.3,53.2 380.8,54.1 381.3,53.7 381.8,55 382.3,54.5 382.8,56 383.3,55.4 383.8,56.5 384.3,55.9 384.8,56.9 385.3,56.3 385.8,57.7 386.3,56.1 386.8,57.3 387.3,56.2 387.8,58.4 388.3,56.5 388.8,57.2 389.3,56.5 389.8,58.6 390.3,56.7 390.8,57.4 391.3,56.9 391.8,58.5 392.3,56.5 392.8,57.7 393.3,56.8 393.8,57.5 394.3,56.6 394.8,58.8 395.3,56.7 395.8,58.9 396.3,56.6 396.8,58 397.3,56.5 397.8,58.6 398.3,57 398.8,57.9 399.3,56.5 399.8,58.5 400.3,57 400.8,57.7 401.3,56.6 401.8,58.6 402.3,56.5 402.8,58.4 403.3,56.7 403.8,57.7 404.3,56.8 404.8,58.2 405.3,56.3 405.8,58.1 406.3,56.2 406.8,58.3 407.3,56.4 407.8,57.8 408.3,56.7 408.8,57.8 409.3,56.5 409.8,57.5 410.3,56.2 410.8,57.2 411.3,56 411.8,56.7 412.3,56 412.8,57.3 413.3,55.8 413.8,56 414.3,55.3 414.8,56.2 415.3,54.4 415.8,55.7 416.3,54.1 416.8,54.3 417.3,53.2 417.8,53.4 418.3,52.3 418.8,52.5 419.3,51 419.8,50.5 420.3,49.3 420.8,48.7 421.3,46.7 421.8,45.7 422.3,43.1 422.8,40.1 423.3,34.7 423.8,26.3 424.3,19.3 424.8,25.4 425.3,33.8 425.8,39.4 426.3,42.3 426.8,44.9 427.3,45.8 427.8,47.6 428.3,47.9 428.8,49.7 429.3,49.4 429.8,50.5 430.3,50.3 430.8,51.6 431.3,51.4 431.8,52.4 432.3,51.6 432.8,53 433.3,52 433.8,52.6 434.3,52.4 434.8,53 435.3,52.4 435.8,53.6 436.3,52.3" fill="none" stroke="#228a22" stroke-width="1.45" stroke-linejoin="round" clip-path="url(#cb)"/>
<polyline points="441.1,52.4 441.6,53.1 442.1,52.2 442.6,52.9 443.1,51.8 443.6,52.5 444.1,51.9 444.6,53 445.1,51.5 445.6,52.4 446.1,51.6 446.6,52.2 447.1,51 447.6,51.7 448.1,50.8 448.6,51.5 449.1,50.5 449.6,51.4 450.1,50.2 450.6,50.8 451.1,49.9 451.6,50.1 452.1,49.3 452.6,49.8 453.1,48.8 453.6,49.1 454.1,48.6 454.6,48.5 455.1,47.9 455.6,48.6 456.1,47.7 456.6,48.1 457.1,47.2 457.6,47.8 458.1,47 458.6,47.4 459.1,46.6 459.6,46.9 460.1,46.6 460.6,47.1 461.1,46.6 461.6,47.3 462.1,46.8 462.6,47.5 463.1,46.9 463.6,47.6 464.1,47.2 464.6,47.8 465.1,47.6 465.6,48.7 466.1,48.3 466.6,49.1 467.1,48.9 467.6,49.7 468.1,49.2 468.6,50.2 469.1,49.9 469.6,50.4 470.1,50.3 470.6,51.2 471.1,51 471.6,52.1 472.1,51.5 472.6,52.6 473.1,51.8 473.6,52.5 474.1,52.2 474.6,53.4 475.1,52.6 475.6,53.7 476.1,52.8 476.6,53.9 477.1,53.1 477.6,54.7 478.1,53.4 478.6,54.5 479.1,53.9 479.6,54.6 480.1,54.2 480.6,55.6 481.1,54.4 481.6,55.5 482.1,54.5 482.6,55.1 483.1,54.8 483.6,55.7 484.1,54.8 484.6,56.5 485.1,55.3 485.6,56.3 486.1,55.5 486.6,56 487.1,55.1 487.6,56.6 488.1,55.9 488.6,57.3 489.1,55.7 489.6,56.5 490.1,55.9 490.6,56.7 491.1,55.7 491.6,56.8 492.1,56.4 492.6,56.9 493.1,56.4 493.6,57.3 494.1,56 494.6,57.3 495.1,56.7 495.6,57.2 496.1,56.8 496.6,58.5 497.1,56.3 497.6,57.9 498.1,56.5 498.6,57.7 499.1,56.9 499.6,57.6 500.1,56.6 500.6,58.9 501.1,57 501.6,59 502.1,56.9 502.6,58.1 503.1,57.3 503.6,58.7 504.1,57.4 504.6,58.7 505.1,57.4 505.6,59.3 506.1,57.4 506.6,58.2 507.1,57.4 507.6,59.4 508.1,57.9 508.6,59.1 509.1,58 509.6,59.5 510.1,57.4 510.6,59.7 511.1,58.1 511.6,59.8 512.1,58.2 512.6,59.4 513.1,58 513.6,58.9" fill="none" stroke="#228a22" stroke-width="1.45" stroke-linejoin="round" clip-path="url(#cb)"/>
<polyline points="287,75.6 287.5,76.8 288,75.4 288.5,76.5 289,75.7 289.5,77.1 290,75.6 290.5,76.8 291,75.3 291.5,76.7 292,75.7 292.5,76.6 293,75.2 293.5,76.1 294,75.6 294.5,76.6 295,75.6 295.5,76.6 296,75.7 296.5,76.3 297,75.4 297.5,76.6 298,75.5 298.5,77 299,75.1 299.5,77.1 300,75.6 300.5,76.7 301,75 301.5,76.3 302,75.5 302.5,76.9 303,75.4 303.5,76.1 304,75.8 304.5,77.4 305,75.5 305.5,76.8 306,75.6 306.5,77 307,75.5 307.5,77.3 308,75.5 308.5,76.4 309,75.4 309.5,77.2 310,75.1 310.5,76.5 311,74.7 311.5,76.3 312,75.1 312.5,75.9 313,74.8 313.5,75.6 314,74.5 314.5,74.9 315,73.4 315.5,73.8 316,71.4 316.5,70.4 317,67.7 317.5,66 318,62.7 318.5,60.2 319,57.6 319.5,56.3 320,55.6 320.5,56.4 321,57.6 321.5,60.2 322,62.7 322.5,65.7 323,67.8 323.5,70.6 324,71.6 324.5,73.9 325,73.3 325.5,75.4 326,74.6 326.5,76.5 327,75.1 327.5,75.9 328,74.8 328.5,77 329,75.2 329.5,76.7 330,75.2 330.5,77.1 331,75.2 331.5,76.6 332,75.4 332.5,76.7 333,75.6 333.5,77.8 334,75.4 334.5,76.8 335,75.7 335.5,76.9 336,76.1 336.5,76.6 337,75.6 337.5,77 338,75.8 338.5,77.2 339,76.3 339.5,78.2 340,76.1 340.5,76.9 341,76.3 341.5,78.1 342,75.7 342.5,78.2 343,76.3 343.5,76.8 344,75.7 344.5,78 345,75.9 345.5,76.8 346,76.5 346.5,77.8 347,76 347.5,78.2 348,76 348.5,77.2 349,76.1 349.5,77.6 350,76.4 350.5,78.5 351,76.5 351.5,77.6 352,76.5 352.5,78.5 353,76.4 353.5,78.3 354,76.6 354.5,77.8 355,75.9 355.5,77.8 356,75.9 356.5,78.6 357,76.7 357.5,77 358,76.6 358.5,78.1 359,76.3 359.5,77.2 360,76.6 360.5,77.8 361,76.6 361.5,77.9 362,76.4" fill="none" stroke="#1414d0" stroke-width="1.45" stroke-linejoin="round" clip-path="url(#cb)"/>
<polyline points="367.3,76.1 367.8,77.5 368.3,75.9 368.8,76.7 369.3,75.3 369.8,77.1 370.3,75.3 370.8,75.9 371.3,74.6 371.8,75.7 372.3,74.2 372.8,75.3 373.3,73.6 373.8,74 374.3,72.7 374.8,73.3 375.3,71.9 375.8,72.4 376.3,72.1 376.8,73.2 377.3,72.3 377.8,73.4 378.3,72.6 378.8,73.6 379.3,72.7 379.8,73.8 380.3,71.8 380.8,72.3 381.3,70.2 381.8,69.3 382.3,66.6 382.8,64.7 383.3,61.5 383.8,59 384.3,56.5 384.8,55 385.3,54.3 385.8,55.1 386.3,56.4 386.8,59.2 387.3,61.5 387.8,64.6 388.3,66.8 388.8,69.3 389.3,70.4 389.8,72.3 390.3,72.7 390.8,73.6 391.3,73.6 391.8,74.9 392.3,73.7 392.8,75.6 393.3,74 393.8,75.4 394.3,74.1 394.8,76.1 395.3,74.3 395.8,75.9 396.3,74 396.8,75.3 397.3,73.5 397.8,71.8 398.3,71.5 398.8,75.4 399.3,74.6 399.8,76.3 400.3,74.4 400.8,76.7 401.3,74.9 401.8,76.6 402.3,75.2 402.8,75.6 403.3,75.1 403.8,76.2 404.3,75.3 404.8,76.6 405.3,75.1 405.8,76.3 406.3,75.3 406.8,75.9 407.3,74.9 407.8,76.1 408.3,74.8 408.8,76.1 409.3,75.4 409.8,75.9 410.3,74.9 410.8,76.5 411.3,75.1 411.8,75.8 412.3,75 412.8,76.5 413.3,74.5 413.8,76.2 414.3,75 414.8,76.1 415.3,74.5 415.8,75.1 416.3,74.3 416.8,75.8 417.3,74.2 417.8,75 418.3,73.6 418.8,74.4 419.3,72.8 419.8,73.5 420.3,71.7 420.8,71.8 421.3,70 421.8,69.2 422.3,66.6 422.8,63.8 423.3,57.7 423.8,49.8 424.3,50.5 424.8,59.2 425.3,64.2 425.8,67.6 426.3,69.2 426.8,71 427.3,71.5 427.8,73.1 428.3,73.3 428.8,74.8 429.3,74.1 429.8,75.2 430.3,75.1 430.8,75.7 431.3,75.2 431.8,77.1 432.3,75.8 432.8,76.6 433.3,76.1 433.8,77.9 434.3,76.5 434.8,77.4 435.3,76.6 435.8,77.3 436.3,76.9" fill="none" stroke="#1414d0" stroke-width="1.45" stroke-linejoin="round" clip-path="url(#cb)"/>
<polyline points="441.1,77.2 441.6,78.5 442.1,77.3 442.6,79.2 443.1,76.9 443.6,79.1 444.1,77.5 444.6,78.7 445.1,77.6 445.6,78.5 446.1,77.4 446.6,78.7 447.1,77.5 447.6,79.4 448.1,77.3 448.6,78.9 449.1,77 449.6,79.4 450.1,77.1 450.6,79.4 451.1,77.6 451.6,79.2 452.1,77.7 452.6,78.1 453.1,77.1 453.6,79.1 454.1,77 454.6,78.3 455.1,77.4 455.6,78.8 456.1,77 456.6,78.9 457.1,77 457.6,78.1 458.1,77.3 458.6,78.3 459.1,77.1 459.6,79.1 460.1,77.2 460.6,78 461.1,76.9 461.6,78.9 462.1,77.2 462.6,79.1 463.1,77.3 463.6,79 464.1,77.3 464.6,78.2 465.1,77.2 465.6,78 466.1,76.4 466.6,77.5 467.1,76.8 467.6,77.3 468.1,76.5 468.6,77.3 469.1,75.6 469.6,76.4 470.1,75.5 470.6,75.7 471.1,74.4 471.6,74.4 472.1,73.3 472.6,73.7 473.1,71.8 473.6,71.5 474.1,69.4 474.6,67.9 475.1,65.4 475.6,63.4 476.1,61 476.6,59.4 477.1,57.9 477.6,57.5 478.1,57.1 478.6,57.5 479.1,57.7 479.6,58.7 480.1,59.1 480.6,60.6 481.1,61.8 481.6,64.4 482.1,66.8 482.6,70.1 483.1,71.7 483.6,74.8 484.1,75.5 484.6,77.9 485.1,77.2 485.6,79.3 486.1,78 486.6,79.4 487.1,77.6 487.6,79.5 488.1,78.3 488.6,79 489.1,78 489.6,80.1 490.1,78.3 490.6,79.9 491.1,78.4 491.6,80.2 492.1,78.1 492.6,78.9 493.1,78.3 493.6,79 494.1,78.1 494.6,79.5 495.1,78.5 495.6,80.1 496.1,78.3 496.6,80.5 497.1,78.4 497.6,79.1 498.1,77.9 498.6,79.2 499.1,78.1 499.6,80.3 500.1,78.1 500.6,80.5 501.1,78.5 501.6,80.7 502.1,78.4 502.6,80.5 503.1,78.6 503.6,79.3 504.1,78.6 504.6,79.8 505.1,78.4 505.6,79.4 506.1,78.2 506.6,80.4 507.1,78.9 507.6,79.4 508.1,78.7 508.6,79.6 509.1,78.6 509.6,80.3 510.1,78.6 510.6,80.7 511.1,78.4 511.6,79.9 512.1,78.3 512.6,80.1 513.1,78.6 513.6,79.4" fill="none" stroke="#1414d0" stroke-width="1.45" stroke-linejoin="round" clip-path="url(#cb)"/>
<polyline points="287,97.7 287.5,98.8 288,97.3 288.5,98.2 289,97.7 289.5,99.3 290,97.3 290.5,98.2 291,97.4 291.5,99.4 292,97.7 292.5,99.8 293,97.1 293.5,98.4 294,97.1 294.5,99.6 295,97.1 295.5,99.8 296,97.5 296.5,99.1 297,97.3 297.5,98.8 298,97.7 298.5,99.3 299,97.5 299.5,99.7 300,97.4 300.5,99.2 301,97.1 301.5,99.3 302,97.5 302.5,99.5 303,97.6 303.5,98.7 304,97.7 304.5,98.8 305,97.7 305.5,99.2 306,97.6 306.5,99.6 307,97.6 307.5,99.3 308,97.7 308.5,98.5 309,97.4 309.5,99.4 310,97.5 310.5,98.4 311,97.3 311.5,99 312,97.4 312.5,98 313,96.7 313.5,97.6 314,96.4 314.5,97.7 315,96 315.5,96.8 316,94.8 316.5,93.9 317,91.8 317.5,90.3 318,87.5 318.5,85.6 319,82.9 319.5,81.5 320,80.1 320.5,80.3 321,80.9 321.5,82.9 322,84.7 322.5,87.6 323,89.5 323.5,92.5 324,93.4 324.5,95.4 325,95.5 325.5,97.5 326,96.7 326.5,98.5 327,96.7 327.5,99.1 328,97.5 328.5,98.6 329,97.1 329.5,98.8 330,97.2 330.5,98.3 331,98 331.5,99.5 332,97.7 332.5,99.1 333,97.7 333.5,99.1 334,97.7 334.5,99.2 335,97.9 335.5,98.7 336,98 336.5,99 337,98.1 337.5,99.3 338,98.4 338.5,98.9 339,97.8 339.5,99.7 340,98 340.5,99.8 341,98 341.5,98.9 342,98.5 342.5,99.9 343,98.1 343.5,99.4 344,98.3 344.5,100.4 345,98.1 345.5,100.1 346,98.2 346.5,100.3 347,98.4 347.5,99.5 348,98.2 348.5,99.3 349,98.5 349.5,100.2 350,98.3 350.5,99.2 351,98.2 351.5,100.3 352,98.4 352.5,99.2 353,98.6 353.5,99.9 354,98.7 354.5,100 355,98 355.5,99.8 356,98.1 356.5,100.6 357,98.6 357.5,99.6 358,98.5 358.5,99.7 359,98.7 359.5,100.3 360,98.9 360.5,99.4 361,98.4 361.5,99.9 362,98.9" fill="none" stroke="#3a24b0" stroke-width="1.45" stroke-linejoin="round" clip-path="url(#cb)"/>
<polyline points="367.3,96.7 367.8,98.4 368.3,96.7 368.8,97.8 369.3,96.9 369.8,98.1 370.3,96 370.8,97.1 371.3,95.9 371.8,96.7 372.3,95.2 372.8,96.2 373.3,94.5 373.8,95 374.3,93.6 374.8,94.1 375.3,92.9 375.8,93.2 376.3,92.7 376.8,93.6 377.3,92.9 377.8,94.1 378.3,93.8 378.8,94.7 379.3,93.9 379.8,95.1 380.3,94.2 380.8,94.5 381.3,93.2 381.8,92.9 382.3,91.1 382.8,89.9 383.3,87.3 383.8,85.5 384.3,82.9 384.8,81.4 385.3,79.9 385.8,80 386.3,80.2 386.8,82.2 387.3,83.7 387.8,86.5 388.3,88.1 388.8,91 389.3,91.9 389.8,93.8 390.3,93.7 390.8,96 391.3,95 391.8,96.4 392.3,95.1 392.8,96.6 393.3,95.7 393.8,96.8 394.3,96 394.8,96.9 395.3,95.5 395.8,97.6 396.3,95.7 396.8,96.2 397.3,94.7 397.8,93.3 398.3,92.7 398.8,96.3 399.3,95.5 399.8,97.4 400.3,96.3 400.8,96.7 401.3,95.7 401.8,97 402.3,95.6 402.8,97.8 403.3,96.2 403.8,97.8 404.3,95.6 404.8,97.5 405.3,96 405.8,97.4 406.3,96.1 406.8,97.3 407.3,95.8 407.8,97.1 408.3,95.9 408.8,97.6 409.3,95.4 409.8,96.9 410.3,95.4 410.8,96.9 411.3,95.6 411.8,96.6 412.3,95.6 412.8,96.2 413.3,95.3 413.8,96.8 414.3,95.5 414.8,96.7 415.3,94.9 415.8,96.4 416.3,95 416.8,96.1 417.3,94.9 417.8,95.4 418.3,94.3 418.8,94.5 419.3,93.5 419.8,94.3 420.3,92.4 420.8,92.7 421.3,91 421.8,90.2 422.3,88.2 422.8,86.1 423.3,81.1 423.8,73.6 424.3,69 424.8,76.5 425.3,83.2 425.8,87.4 426.3,89.2 426.8,91.2 427.3,92 427.8,93.7 428.3,93.6 428.8,95 429.3,94.6 429.8,95.7 430.3,95.6 430.8,97.3 431.3,96 431.8,97 432.3,96.5 432.8,97.7 433.3,96.7 433.8,98.9 434.3,97 434.8,99 435.3,97.6 435.8,98.5 436.3,97.6" fill="none" stroke="#3a24b0" stroke-width="1.45" stroke-linejoin="round" clip-path="url(#cb)"/>
<polyline points="441.1,98.5 441.6,100.7 442.1,99 442.6,99.6 443.1,98.7 443.6,100.6 444.1,99.1 444.6,101.1 445.1,98.6 445.6,100.1 446.1,98.7 446.6,100.7 447.1,98.5 447.6,100.4 448.1,98.9 448.6,99.7 449.1,98.6 449.6,100.9 450.1,98.8 450.6,101 451.1,98.8 451.6,101.2 452.1,98.9 452.6,100.6 453.1,99 453.6,100.3 454.1,99 454.6,100.8 455.1,99.1 455.6,100.2 456.1,98.8 456.6,100.1 457.1,99.2 457.6,100.5 458.1,99.1 458.6,99.7 459.1,99.1 459.6,99.7 460.1,98.9 460.6,101.1 461.1,98.9 461.6,100.1 462.1,99.1 462.6,100.2 463.1,99.2 463.6,100.6 464.1,99 464.6,100.1 465.1,98.7 465.6,100.6 466.1,98.7 466.6,99.9 467.1,98.5 467.6,100.2 468.1,98.4 468.6,99 469.1,97.8 469.6,99 470.1,97.3 470.6,98.7 471.1,96.9 471.6,97.4 472.1,96.4 472.6,96.4 473.1,95.2 473.6,95.4 474.1,93.8 474.6,93.2 475.1,91 475.6,89.5 476.1,87.3 476.6,85.7 477.1,83.7 477.6,83 478.1,82 478.6,82.1 479.1,82 479.6,82.6 480.1,82.7 480.6,83.7 481.1,84.2 481.6,86.1 482.1,87.4 482.6,90.2 483.1,91.9 483.6,94.5 484.1,95.9 484.6,97.9 485.1,98.5 485.6,99.5 486.1,99.2 486.6,101.2 487.1,99.6 487.6,100.7 488.1,100 488.6,101 489.1,100.1 489.6,101.1 490.1,99.6 490.6,101.2 491.1,100.2 491.6,101.9 492.1,99.7 492.6,100.7 493.1,100.1 493.6,101.6 494.1,100.2 494.6,101.1 495.1,100 495.6,101 496.1,99.8 496.6,102.1 497.1,100.1 497.6,101.6 498.1,99.9 498.6,102 499.1,100.3 499.6,101.5 500.1,100 500.6,102.2 501.1,100 501.6,102.4 502.1,100.1 502.6,101.3 503.1,100.6 503.6,101.1 504.1,100.5 504.6,102.5 505.1,100.4 505.6,101.3 506.1,100.8 506.6,101.6 507.1,100.8 507.6,102.7 508.1,100.4 508.6,102.6 509.1,100.3 509.6,101.3 510.1,100.6 510.6,101.6 511.1,100.7 511.6,101.6 512.1,100.9 512.6,102 513.1,100.7 513.6,101.9" fill="none" stroke="#3a24b0" stroke-width="1.45" stroke-linejoin="round" clip-path="url(#cb)"/>
<polyline points="287,118.9 287.5,120.3 288,118.5 288.5,120.6 289,118.6 289.5,120.4 290,118.7 290.5,120.4 291,118.8 291.5,120.3 292,118.4 292.5,120.1 293,118.8 293.5,120.4 294,119.1 294.5,120.5 295,118.5 295.5,120.9 296,118.9 296.5,120.9 297,118.8 297.5,119.8 298,119 298.5,120.8 299,118.8 299.5,121.1 300,118.4 300.5,120.2 301,119.1 301.5,119.9 302,119 302.5,119.8 303,118.9 303.5,119.7 304,119.1 304.5,119.9 305,118.5 305.5,119.8 306,119 306.5,120.5 307,118.6 307.5,119.6 308,118.7 308.5,120.1 309,119.1 309.5,119.9 310,118.8 310.5,119.8 311,118.5 311.5,119.8 312,118.8 312.5,120.3 313,118.3 313.5,120 314,118.5 314.5,119.8 315,117.9 315.5,119.6 316,117.3 316.5,117.8 317,116.4 317.5,115.9 318,113.8 318.5,113.2 319,110.7 319.5,109.7 320,107.8 320.5,107.2 321,106.7 321.5,107.4 322,108.3 322.5,110 323,111.5 323.5,113.8 324,114.6 324.5,116.6 325,116.6 325.5,118.9 326,118.2 326.5,119.9 327,118.3 327.5,119.2 328,118.9 328.5,120.8 329,118.7 329.5,121 330,118.9 330.5,121 331,119.2 331.5,120.2 332,118.9 332.5,120.2 333,119.2 333.5,120.4 334,119.5 334.5,120.5 335,118.9 335.5,120.9 336,119.4 336.5,120.1 337,119.5 337.5,120.9 338,119.7 338.5,121.7 339,119.8 339.5,121.7 340,119.5 340.5,120.8 341,119.2 341.5,120.5 342,119.5 342.5,121.8 343,119.1 343.5,120.9 344,119.2 344.5,121.1 345,119.9 345.5,120.8 346,120 346.5,121.9 347,119.5 347.5,121.4 348,119.8 348.5,121.5 349,119.8 349.5,120.9 350,119.3 350.5,121.3 351,119.5 351.5,120.9 352,119.6 352.5,122 353,119.8 353.5,121.1 354,120 354.5,121.3 355,119.6 355.5,120.8 356,119.4 356.5,121 357,119.7 357.5,121.5 358,120 358.5,121.3 359,119.8 359.5,121.9 360,119.5 360.5,121.5 361,120.1 361.5,121.2 362,119.5" fill="none" stroke="#68208c" stroke-width="1.45" stroke-linejoin="round" clip-path="url(#cb)"/>
<polyline points="367.3,122.2 367.8,122.5 368.3,122 368.8,122.3 369.3,121.4 369.8,123 370.3,121.6 370.8,122.2 371.3,120.8 371.8,121.4 372.3,120.7 372.8,122.1 373.3,120 373.8,121.3 374.3,119.5 374.8,119.7 375.3,118.8 375.8,119.8 376.3,118.7 376.8,120 377.3,118.8 377.8,120 378.3,119.5 378.8,120.7 379.3,119.5 379.8,120.8 380.3,119.8 380.8,120.5 381.3,119.2 381.8,119.5 382.3,117.9 382.8,117.5 383.3,115.1 383.8,113.8 384.3,111.3 384.8,109.5 385.3,107.2 385.8,106.2 386.3,105.2 386.8,105.7 387.3,106.6 387.8,108.5 388.3,110.4 388.8,112.8 389.3,114.4 389.8,116.9 390.3,117.5 390.8,119.6 391.3,119 391.8,120.3 392.3,120.3 392.8,121.7 393.3,120.2 393.8,121.2 394.3,120.7 394.8,121.7 395.3,120.4 395.8,122.2 396.3,120.5 396.8,122.2 397.3,119.6 397.8,118 398.3,118.1 398.8,120.7 399.3,120.5 399.8,122.1 400.3,121.1 400.8,122.3 401.3,120.6 401.8,122.4 402.3,121.1 402.8,122.9 403.3,121.1 403.8,121.7 404.3,121 404.8,122.2 405.3,120.6 405.8,122.9 406.3,120.8 406.8,122.3 407.3,120.6 407.8,122.5 408.3,121.2 408.8,122.7 409.3,120.8 409.8,122.2 410.3,120.7 410.8,122.8 411.3,121.1 411.8,122.6 412.3,120.8 412.8,122.5 413.3,120.8 413.8,122.1 414.3,120.3 414.8,121.8 415.3,120.1 415.8,121 416.3,120.3 416.8,121.6 417.3,119.8 417.8,120.9 418.3,119.3 418.8,120 419.3,118.6 419.8,119 420.3,117.8 420.8,117.7 421.3,116.5 421.8,116 422.3,113.9 422.8,112.1 423.3,108.4 423.8,102.5 424.3,94.9 424.8,98.5 425.3,105.9 425.8,111 426.3,113.1 426.8,115.5 427.3,116.1 427.8,117.5 428.3,118 428.8,119.2 429.3,119.1 429.8,120.5 430.3,120 430.8,120.6 431.3,120.3 431.8,122 432.3,120.5 432.8,122.2 433.3,121.2 433.8,122.2 434.3,121.1 434.8,123.1 435.3,121.3 435.8,123.2 436.3,121.9" fill="none" stroke="#68208c" stroke-width="1.45" stroke-linejoin="round" clip-path="url(#cb)"/>
<polyline points="441.1,122.8 441.6,124.6 442.1,123.1 442.6,124.5 443.1,122.8 443.6,124.3 444.1,122.5 444.6,124.7 445.1,123.1 445.6,124.5 446.1,122.6 446.6,124.5 447.1,123 447.6,124.6 448.1,122.5 448.6,123.4 449.1,122.6 449.6,124 450.1,122.7 450.6,124.8 451.1,122.9 451.6,124.6 452.1,122.7 452.6,123.8 453.1,122.7 453.6,124.9 454.1,122.5 454.6,124.8 455.1,122.5 455.6,124.4 456.1,122.4 456.6,124.7 457.1,122.9 457.6,123.6 458.1,122.4 458.6,124.6 459.1,122.5 459.6,123.9 460.1,122.3 460.6,124.3 461.1,122.2 461.6,123.8 462.1,122.9 462.6,123.8 463.1,122.8 463.6,124.2 464.1,122.4 464.6,123.4 465.1,122.4 465.6,123.9 466.1,122.3 466.6,123.1 467.1,122.1 467.6,123.7 468.1,122 468.6,123.1 469.1,121.7 469.6,123.2 470.1,121.4 470.6,123.3 471.1,121.3 471.6,122.3 472.1,120.9 472.6,121.6 473.1,120.4 473.6,121 474.1,119.5 474.6,120 475.1,118.5 475.6,118.6 476.1,116.8 476.6,116.1 477.1,114.1 477.6,113.2 478.1,110.8 478.6,109.9 479.1,108.5 479.6,108.3 480.1,107.8 480.6,108.4 481.1,108.2 481.6,109 482.1,109 482.6,110.3 483.1,111.1 483.6,113.1 484.1,114.2 484.6,116.5 485.1,117.9 485.6,120.6 486.1,120.8 486.6,122.1 487.1,122.3 487.6,123.7 488.1,122.8 488.6,124.4 489.1,122.7 489.6,123.9 490.1,122.5 490.6,123.7 491.1,122.5 491.6,123.6 492.1,122.6 492.6,124.3 493.1,122.9 493.6,123.6 494.1,123.1 494.6,124.8 495.1,123 495.6,124.5 496.1,122.7 496.6,124.6 497.1,123.1 497.6,124.8 498.1,123.2 498.6,124 499.1,122.4 499.6,124.8 500.1,122.8 500.6,124.2 501.1,122.9 501.6,124.8 502.1,122.6 502.6,124.8 503.1,122.4 503.6,124 504.1,122.6 504.6,124 505.1,123.2 505.6,124.9 506.1,123 506.6,123.6 507.1,122.7 507.6,124.6 508.1,122.5 508.6,125 509.1,122.5 509.6,123.7 510.1,122.7 510.6,124.5 511.1,122.7 511.6,124.4 512.1,122.9 512.6,123.8 513.1,122.5 513.6,125.1" fill="none" stroke="#68208c" stroke-width="1.45" stroke-linejoin="round" clip-path="url(#cb)"/>
<polyline points="287,143.1 287.5,144.1 288,142.9 288.5,144.8 289,143.4 289.5,145.4 290,143.1 290.5,144.3 291,143.1 291.5,145.4 292,143.3 292.5,144.3 293,142.9 293.5,144.9 294,142.9 294.5,144.5 295,142.7 295.5,145.3 296,143 296.5,144.9 297,143.4 297.5,144.1 298,143 298.5,144.7 299,142.7 299.5,144.6 300,143.3 300.5,144.9 301,142.7 301.5,144.4 302,142.7 302.5,144.9 303,143.1 303.5,144.1 304,143.4 304.5,144.7 305,143.1 305.5,144.5 306,142.6 306.5,144.2 307,143 307.5,144.2 308,142.7 308.5,143.9 309,143 309.5,144.1 310,143 310.5,143.6 311,142.5 311.5,144.5 312,142.9 312.5,144.4 313,142.2 313.5,144.3 314,142.1 314.5,143.7 315,141.7 315.5,142.8 316,140.7 316.5,141.3 317,138.8 317.5,138 318,135.6 318.5,133.9 319,131.6 319.5,129.8 320,128.3 320.5,128.2 321,127.9 321.5,129.4 322,130.7 322.5,133 323,134.9 323.5,137.7 324,138.5 324.5,140.7 325,140.8 325.5,142.1 326,141.5 326.5,143.8 327,142.3 327.5,143.2 328,142.7 328.5,144 329,142.7 329.5,144.7 330,142.9 330.5,144.4 331,142.7 331.5,144.2 332,142.7 332.5,144.2 333,143.1 333.5,144.4 334,143.2 334.5,144.4 335,143 335.5,144 336,143.3 336.5,145.3 337,142.9 337.5,144.5 338,142.7 338.5,144.4 339,142.9 339.5,144.3 340,142.8 340.5,145.3 341,142.9 341.5,144.1 342,143.1 342.5,144.7 343,143.1 343.5,144.8 344,143.3 344.5,145.3 345,143 345.5,145 346,143 346.5,144 347,143 347.5,144.4 348,143.6 348.5,144.2 349,143.6 349.5,144.7 350,143.2 350.5,145.4 351,143 351.5,145.2 352,143.3 352.5,144.3 353,143.5 353.5,145.2 354,143 354.5,144.8 355,143.4 355.5,145.1 356,143.5 356.5,145.6 357,143.6 357.5,145.4 358,143.2 358.5,145.2 359,143.7 359.5,145.4 360,143.1 360.5,145.2 361,143.4 361.5,144.5 362,143.5" fill="none" stroke="#a01c44" stroke-width="1.45" stroke-linejoin="round" clip-path="url(#cb)"/>
<polyline points="367.3,142.1 367.8,143.5 368.3,142.2 368.8,143.5 369.3,141.9 369.8,143.2 370.3,141.8 370.8,142.9 371.3,141.1 371.8,142.7 372.3,141 372.8,141.5 373.3,140.7 373.8,141.5 374.3,139.7 374.8,140.2 375.3,139.1 375.8,140.3 376.3,138.9 376.8,140 377.3,139.6 377.8,140.1 378.3,139.8 378.8,140.5 379.3,140.4 379.8,141.6 380.3,140.4 380.8,141.3 381.3,139.6 381.8,139.6 382.3,137.8 382.8,136.9 383.3,134.3 383.8,132.9 384.3,130.1 384.8,128.5 385.3,126.4 385.8,126 386.3,125.7 386.8,127.1 387.3,128.4 387.8,130.8 388.3,132.8 388.8,135.6 389.3,136.8 389.8,139.1 390.3,139.2 390.8,141.1 391.3,140.9 391.8,141.5 392.3,141 392.8,143 393.3,141.6 393.8,142.4 394.3,141.9 394.8,142.4 395.3,141.5 395.8,143.3 396.3,141.7 396.8,142.3 397.3,140.6 397.8,138.2 398.3,138.3 398.8,142.1 399.3,141.7 399.8,142.4 400.3,141.7 400.8,142.8 401.3,142 401.8,143.1 402.3,142 402.8,142.7 403.3,141.6 403.8,142.8 404.3,141.8 404.8,144.1 405.3,142.2 405.8,143.7 406.3,142 406.8,142.7 407.3,142.2 407.8,143.3 408.3,141.5 408.8,142.8 409.3,141.7 409.8,142.8 410.3,141.4 410.8,143.4 411.3,141.5 411.8,142.2 412.3,141.8 412.8,143.1 413.3,141.7 413.8,142.8 414.3,141.6 414.8,142.6 415.3,141.3 415.8,142.2 416.3,140.5 416.8,141.3 417.3,140.1 417.8,140.8 418.3,139.9 418.8,140 419.3,139 419.8,139.6 420.3,138.1 420.8,137.6 421.3,136.3 421.8,135.4 422.3,133.2 422.8,131.2 423.3,126.7 423.8,119.6 424.3,113 424.8,119 425.3,126.2 425.8,130.8 426.3,133.1 426.8,135.5 427.3,136 427.8,137.7 428.3,137.8 428.8,139.4 429.3,139.2 429.8,140.1 430.3,139.9 430.8,140.8 431.3,140.3 431.8,141.1 432.3,140.9 432.8,142.5 433.3,141.3 433.8,142.6 434.3,141.5 434.8,142.8 435.3,141.2 435.8,142.5 436.3,141.3" fill="none" stroke="#a01c44" stroke-width="1.45" stroke-linejoin="round" clip-path="url(#cb)"/>
<polyline points="441.1,144.5 441.6,145.8 442.1,144.8 442.6,145.7 443.1,144.9 443.6,145.6 444.1,144.3 444.6,145.4 445.1,144.3 445.6,145.3 446.1,144.8 446.6,146.7 447.1,144.2 447.6,145.3 448.1,144.5 448.6,145.8 449.1,144.6 449.6,145.8 450.1,144.3 450.6,146.4 451.1,144.2 451.6,145.6 452.1,144.4 452.6,146 453.1,144.4 453.6,145.4 454.1,144.8 454.6,145.5 455.1,144.8 455.6,146.1 456.1,144.9 456.6,146.5 457.1,144.4 457.6,146 458.1,144.8 458.6,146.2 459.1,144.5 459.6,146.6 460.1,144.2 460.6,145.4 461.1,144.1 461.6,146.6 462.1,144.6 462.6,145.7 463.1,144.1 463.6,146.4 464.1,144.2 464.6,146 465.1,144.6 465.6,145.5 466.1,144.4 466.6,145.3 467.1,144 467.6,145 468.1,144.1 468.6,144.8 469.1,143.5 469.6,144.2 470.1,143.5 470.6,144.6 471.1,142.8 471.6,143.8 472.1,142.6 472.6,143.2 473.1,141.6 473.6,141.8 474.1,140.6 474.6,140.6 475.1,139.3 475.6,138.8 476.1,136.7 476.6,135.3 477.1,133.2 477.6,132 478.1,130.5 478.6,129.9 479.1,129.1 479.6,129.6 480.1,129.4 480.6,129.9 481.1,130 481.6,131.1 482.1,131.6 482.6,133.4 483.1,134.6 483.6,137.2 484.1,138.6 484.6,141.1 485.1,141.7 485.6,144.3 486.1,143.8 486.6,145.6 487.1,144.1 487.6,146.5 488.1,144.5 488.6,145.6 489.1,145 489.6,145.9 490.1,144.3 490.6,146.3 491.1,144.4 491.6,145.8 492.1,144.8 492.6,146 493.1,144.4 493.6,146.8 494.1,144.9 494.6,146 495.1,145 495.6,146.5 496.1,144.8 496.6,146.6 497.1,144.9 497.6,147 498.1,144.6 498.6,146.9 499.1,145.1 499.6,146.2 500.1,145.2 500.6,145.8 501.1,144.5 501.6,146 502.1,144.7 502.6,146.3 503.1,144.7 503.6,146.3 504.1,144.8 504.6,147 505.1,145.2 505.6,146.9 506.1,144.4 506.6,145.6 507.1,145.1 507.6,146.1 508.1,145.1 508.6,146.4 509.1,144.5 509.6,146.5 510.1,145 510.6,147.1 511.1,145.1 511.6,146.1 512.1,144.7 512.6,146.9 513.1,144.5 513.6,146.4" fill="none" stroke="#a01c44" stroke-width="1.45" stroke-linejoin="round" clip-path="url(#cb)"/>
<polyline points="287,164 287.5,165.2 288,164.3 288.5,165.1 289,164.7 289.5,166 290,164.4 290.5,166.7 291,164.3 291.5,165.2 292,164.6 292.5,166.2 293,164.1 293.5,166.2 294,164.2 294.5,166.7 295,164.2 295.5,165.4 296,164.8 296.5,165.4 297,164.1 297.5,165.4 298,164.3 298.5,165.5 299,164.2 299.5,165.5 300,164.1 300.5,165.2 301,164 301.5,166.2 302,164.4 302.5,166.5 303,164.2 303.5,165.7 304,164.2 304.5,165.1 305,164.1 305.5,165.4 306,164 306.5,166 307,164.3 307.5,166.1 308,164.5 308.5,166.2 309,164 309.5,165 310,164.1 310.5,165.3 311,163.9 311.5,166.1 312,164.3 312.5,165.9 313,163.8 313.5,165.8 314,163.9 314.5,165.5 315,163.4 315.5,164.8 316,162.8 316.5,163 317,160.6 317.5,159.8 318,157.9 318.5,156.7 319,154.1 319.5,153.1 320,151.3 320.5,151.1 321,151.2 321.5,152.3 322,153.6 322.5,155.9 323,157.1 323.5,159.4 324,160.6 324.5,162.5 325,162.2 325.5,164.1 326,163.4 326.5,165.3 327,163.8 327.5,165.5 328,164 328.5,165.5 329,164.5 329.5,166.3 330,164.4 330.5,165.8 331,164.1 331.5,165.8 332,164.6 332.5,166.2 333,164.1 333.5,165.4 334,164.7 334.5,165.7 335,164.6 335.5,166.2 336,164.4 336.5,165.8 337,164.8 337.5,165.9 338,164.7 338.5,165.7 339,164.8 339.5,166.7 340,164.4 340.5,165.8 341,164.4 341.5,166 342,165 342.5,166.4 343,164.6 343.5,165.6 344,164.8 344.5,166.2 345,164.5 345.5,166.9 346,164.8 346.5,166 347,165 347.5,165.5 348,165.1 348.5,166.5 349,164.4 349.5,166.8 350,164.7 350.5,166.6 351,164.6 351.5,166.6 352,164.8 352.5,166.2 353,165.1 353.5,166.7 354,165.1 354.5,167.1 355,165 355.5,165.9 356,164.7 356.5,167.1 357,164.7 357.5,167.1 358,165.1 358.5,166.1 359,164.5 359.5,165.6 360,164.7 360.5,166 361,164.8 361.5,167 362,164.8" fill="none" stroke="#ec1c1c" stroke-width="1.45" stroke-linejoin="round" clip-path="url(#cb)"/>
<polyline points="367.3,166.1 367.8,166.8 368.3,166.3 368.8,167.8 369.3,165.5 369.8,166.7 370.3,165.2 370.8,165.7 371.3,164.6 371.8,165.8 372.3,164.4 372.8,164.2 373.3,163.3 373.8,163.1 374.3,162.2 374.8,162.4 375.3,160.9 375.8,161.6 376.3,160.8 376.8,161.6 377.3,161.6 377.8,162.8 378.3,162.2 378.8,163.5 379.3,163.1 379.8,163.8 380.3,163.5 380.8,164.3 381.3,163 381.8,162.9 382.3,161.7 382.8,160.6 383.3,158.6 383.8,157 384.3,154.7 384.8,152.8 385.3,150.9 385.8,150 386.3,149.6 386.8,150.2 387.3,151.4 387.8,153.6 388.3,155.6 388.8,158.1 389.3,159.6 389.8,162.1 390.3,162.2 390.8,163.7 391.3,163.8 391.8,165.7 392.3,164.5 392.8,165.2 393.3,164.4 393.8,165.8 394.3,164.9 394.8,166.7 395.3,164.9 395.8,166 396.3,164.6 396.8,165.1 397.3,164 397.8,161.5 398.3,161.2 398.8,165 399.3,164.5 399.8,166.9 400.3,164.9 400.8,166.4 401.3,164.9 401.8,166.3 402.3,165.4 402.8,167 403.3,165 403.8,166 404.3,164.8 404.8,166.4 405.3,165 405.8,166.3 406.3,164.7 406.8,166.3 407.3,164.8 407.8,165.6 408.3,164.8 408.8,165.6 409.3,164.6 409.8,166.2 410.3,164.4 410.8,166 411.3,165 411.8,166.2 412.3,164.7 412.8,165.4 413.3,164.6 413.8,165.6 414.3,164 414.8,165.9 415.3,164.1 415.8,165.5 416.3,163.8 416.8,164.1 417.3,163.7 417.8,163.9 418.3,162.7 418.8,164 419.3,162.4 419.8,162.3 420.3,161 420.8,161.2 421.3,159.6 421.8,159 422.3,157 422.8,155 423.3,151.5 423.8,145.9 424.3,137 424.8,138.2 425.3,146.4 425.8,152.4 426.3,155.2 426.8,157.9 427.3,158.7 427.8,160.2 428.3,160.4 428.8,162.1 429.3,162 429.8,163.3 430.3,162.9 430.8,163.6 431.3,163.3 431.8,164 432.3,163.5 432.8,165.6 433.3,164.1 433.8,165.4 434.3,164.5 434.8,165.7 435.3,164.3 435.8,165.3 436.3,164.2" fill="none" stroke="#ec1c1c" stroke-width="1.45" stroke-linejoin="round" clip-path="url(#cb)"/>
<polyline points="441.1,165.7 441.6,167.5 442.1,166.2 442.6,166.9 443.1,166 443.6,167.8 444.1,165.7 444.6,166.9 445.1,165.9 445.6,168 446.1,165.8 446.6,167.9 447.1,165.6 447.6,168.3 448.1,165.8 448.6,167.1 449.1,165.7 449.6,168 450.1,166.1 450.6,167.3 451.1,166.3 451.6,167 452.1,165.7 452.6,168.3 453.1,165.9 453.6,167.9 454.1,165.6 454.6,167.5 455.1,165.9 455.6,168 456.1,165.7 456.6,167 457.1,165.9 457.6,168.1 458.1,165.9 458.6,167.3 459.1,165.6 459.6,167.2 460.1,165.6 460.6,167.1 461.1,166.2 461.6,167.3 462.1,165.5 462.6,167.3 463.1,165.5 463.6,167.2 464.1,165.6 464.6,167.5 465.1,165.3 465.6,166.4 466.1,165.7 466.6,167 467.1,165.4 467.6,167.1 468.1,165.4 468.6,166.2 469.1,165.2 469.6,165.6 470.1,165.1 470.6,166.6 471.1,164.7 471.6,165.4 472.1,164.3 472.6,164.8 473.1,163.4 473.6,164.2 474.1,162.8 474.6,162.6 475.1,161.4 475.6,160.7 476.1,159.2 476.6,158.3 477.1,156.3 477.6,155.6 478.1,154.1 478.6,153.8 479.1,153.2 479.6,153.6 480.1,153.4 480.6,154 481.1,153.9 481.6,154.7 482.1,155.3 482.6,157.2 483.1,158.1 483.6,160.2 484.1,161.3 484.6,163.5 485.1,164 485.6,165.4 486.1,165 486.6,166.9 487.1,165.6 487.6,167.6 488.1,166.2 488.6,167.7 489.1,166.2 489.6,166.7 490.1,165.6 490.6,168.2 491.1,166.3 491.6,168.3 492.1,166.3 492.6,166.7 493.1,166.3 493.6,167.4 494.1,166.3 494.6,167.6 495.1,165.8 495.6,166.9 496.1,166.1 496.6,167.1 497.1,165.7 497.6,167.3 498.1,165.8 498.6,167.7 499.1,166.4 499.6,167.2 500.1,166.5 500.6,168.4 501.1,166.3 501.6,166.9 502.1,166.3 502.6,166.9 503.1,165.8 503.6,167.4 504.1,166.4 504.6,167.4 505.1,165.7 505.6,167.8 506.1,165.8 506.6,168.4 507.1,166.6 507.6,167.9 508.1,165.9 508.6,167.7 509.1,166.2 509.6,167.9 510.1,166.1 510.6,166.9 511.1,165.9 511.6,167 512.1,166.4 512.6,168.5 513.1,166.5 513.6,167.2" fill="none" stroke="#ec1c1c" stroke-width="1.45" stroke-linejoin="round" clip-path="url(#cb)"/>
<line x1="375.2" y1="55" x2="375.2" y2="168.7" stroke="#6aa86a" stroke-width="0.9" stroke-dasharray="1,2"/>
<line x1="398" y1="70" x2="398" y2="168.7" stroke="#555" stroke-width="0.9" stroke-dasharray="1,2"/>
<rect x="286.5" y="10.5" width="229.0" height="158.2" fill="none" stroke="#000" stroke-width="1.5"/>
<line x1="287" y1="168.7" x2="287" y2="165.7" stroke="#000" stroke-width="1"/>
<line x1="287" y1="10.5" x2="287" y2="13.5" stroke="#000" stroke-width="1"/>
<line x1="301.8" y1="168.7" x2="301.8" y2="166.9" stroke="#000" stroke-width="1"/>
<line x1="301.8" y1="10.5" x2="301.8" y2="12.3" stroke="#000" stroke-width="1"/>
<line x1="316.6" y1="168.7" x2="316.6" y2="165.7" stroke="#000" stroke-width="1"/>
<line x1="316.6" y1="10.5" x2="316.6" y2="13.5" stroke="#000" stroke-width="1"/>
<line x1="331.4" y1="168.7" x2="331.4" y2="166.9" stroke="#000" stroke-width="1"/>
<line x1="331.4" y1="10.5" x2="331.4" y2="12.3" stroke="#000" stroke-width="1"/>
<line x1="346.2" y1="168.7" x2="346.2" y2="165.7" stroke="#000" stroke-width="1"/>
<line x1="346.2" y1="10.5" x2="346.2" y2="13.5" stroke="#000" stroke-width="1"/>
<line x1="361" y1="168.7" x2="361" y2="166.9" stroke="#000" stroke-width="1"/>
<line x1="361" y1="10.5" x2="361" y2="12.3" stroke="#000" stroke-width="1"/>
<line x1="373" y1="168.7" x2="373" y2="165.7" stroke="#000" stroke-width="1"/>
<line x1="373" y1="10.5" x2="373" y2="13.5" stroke="#000" stroke-width="1"/>
<line x1="380.1" y1="168.7" x2="380.1" y2="166.9" stroke="#000" stroke-width="1"/>
<line x1="380.1" y1="10.5" x2="380.1" y2="12.3" stroke="#000" stroke-width="1"/>
<line x1="387.3" y1="168.7" x2="387.3" y2="165.7" stroke="#000" stroke-width="1"/>
<line x1="387.3" y1="10.5" x2="387.3" y2="13.5" stroke="#000" stroke-width="1"/>
<line x1="394.4" y1="168.7" x2="394.4" y2="166.9" stroke="#000" stroke-width="1"/>
<line x1="394.4" y1="10.5" x2="394.4" y2="12.3" stroke="#000" stroke-width="1"/>
<line x1="401.6" y1="168.7" x2="401.6" y2="165.7" stroke="#000" stroke-width="1"/>
<line x1="401.6" y1="10.5" x2="401.6" y2="13.5" stroke="#000" stroke-width="1"/>
<line x1="408.8" y1="168.7" x2="408.8" y2="166.9" stroke="#000" stroke-width="1"/>
<line x1="408.8" y1="10.5" x2="408.8" y2="12.3" stroke="#000" stroke-width="1"/>
<line x1="415.9" y1="168.7" x2="415.9" y2="165.7" stroke="#000" stroke-width="1"/>
<line x1="415.9" y1="10.5" x2="415.9" y2="13.5" stroke="#000" stroke-width="1"/>
<line x1="423.1" y1="168.7" x2="423.1" y2="166.9" stroke="#000" stroke-width="1"/>
<line x1="423.1" y1="10.5" x2="423.1" y2="12.3" stroke="#000" stroke-width="1"/>
<line x1="430.2" y1="168.7" x2="430.2" y2="165.7" stroke="#000" stroke-width="1"/>
<line x1="430.2" y1="10.5" x2="430.2" y2="13.5" stroke="#000" stroke-width="1"/>
<line x1="450.6" y1="168.7" x2="450.6" y2="166.9" stroke="#000" stroke-width="1"/>
<line x1="450.6" y1="10.5" x2="450.6" y2="12.3" stroke="#000" stroke-width="1"/>
<line x1="459.6" y1="168.7" x2="459.6" y2="165.7" stroke="#000" stroke-width="1"/>
<line x1="459.6" y1="10.5" x2="459.6" y2="13.5" stroke="#000" stroke-width="1"/>
<line x1="468.6" y1="168.7" x2="468.6" y2="166.9" stroke="#000" stroke-width="1"/>
<line x1="468.6" y1="10.5" x2="468.6" y2="12.3" stroke="#000" stroke-width="1"/>
<line x1="477.7" y1="168.7" x2="477.7" y2="165.7" stroke="#000" stroke-width="1"/>
<line x1="477.7" y1="10.5" x2="477.7" y2="13.5" stroke="#000" stroke-width="1"/>
<line x1="486.8" y1="168.7" x2="486.8" y2="166.9" stroke="#000" stroke-width="1"/>
<line x1="486.8" y1="10.5" x2="486.8" y2="12.3" stroke="#000" stroke-width="1"/>
<line x1="495.8" y1="168.7" x2="495.8" y2="165.7" stroke="#000" stroke-width="1"/>
<line x1="495.8" y1="10.5" x2="495.8" y2="13.5" stroke="#000" stroke-width="1"/>
<line x1="504.9" y1="168.7" x2="504.9" y2="166.9" stroke="#000" stroke-width="1"/>
<line x1="504.9" y1="10.5" x2="504.9" y2="12.3" stroke="#000" stroke-width="1"/>
<line x1="286.5" y1="13.8" x2="289.5" y2="13.8" stroke="#000" stroke-width="1"/>
<line x1="515.5" y1="13.8" x2="512.5" y2="13.8" stroke="#000" stroke-width="1"/>
<line x1="286.5" y1="17.2" x2="288.3" y2="17.2" stroke="#000" stroke-width="1"/>
<line x1="515.5" y1="17.2" x2="513.7" y2="17.2" stroke="#000" stroke-width="1"/>
<line x1="286.5" y1="24.8" x2="289.5" y2="24.8" stroke="#000" stroke-width="1"/>
<line x1="515.5" y1="24.8" x2="512.5" y2="24.8" stroke="#000" stroke-width="1"/>
<line x1="286.5" y1="28.2" x2="288.3" y2="28.2" stroke="#000" stroke-width="1"/>
<line x1="515.5" y1="28.2" x2="513.7" y2="28.2" stroke="#000" stroke-width="1"/>
<line x1="286.5" y1="35.8" x2="289.5" y2="35.8" stroke="#000" stroke-width="1"/>
<line x1="515.5" y1="35.8" x2="512.5" y2="35.8" stroke="#000" stroke-width="1"/>
<line x1="286.5" y1="39.2" x2="288.3" y2="39.2" stroke="#000" stroke-width="1"/>
<line x1="515.5" y1="39.2" x2="513.7" y2="39.2" stroke="#000" stroke-width="1"/>
<line x1="286.5" y1="46.8" x2="289.5" y2="46.8" stroke="#000" stroke-width="1"/>
<line x1="515.5" y1="46.8" x2="512.5" y2="46.8" stroke="#000" stroke-width="1"/>
<line x1="286.5" y1="50.2" x2="288.3" y2="50.2" stroke="#000" stroke-width="1"/>
<line x1="515.5" y1="50.2" x2="513.7" y2="50.2" stroke="#000" stroke-width="1"/>
<line x1="286.5" y1="57.8" x2="289.5" y2="57.8" stroke="#000" stroke-width="1"/>
<line x1="515.5" y1="57.8" x2="512.5" y2="57.8" stroke="#000" stroke-width="1"/>
<line x1="286.5" y1="61.2" x2="288.3" y2="61.2" stroke="#000" stroke-width="1"/>
<line x1="515.5" y1="61.2" x2="513.7" y2="61.2" stroke="#000" stroke-width="1"/>
<line x1="286.5" y1="68.8" x2="289.5" y2="68.8" stroke="#000" stroke-width="1"/>
<line x1="515.5" y1="68.8" x2="512.5" y2="68.8" stroke="#000" stroke-width="1"/>
<line x1="286.5" y1="72.2" x2="288.3" y2="72.2" stroke="#000" stroke-width="1"/>
<line x1="515.5" y1="72.2" x2="513.7" y2="72.2" stroke="#000" stroke-width="1"/>
<line x1="286.5" y1="79.8" x2="289.5" y2="79.8" stroke="#000" stroke-width="1"/>
<line x1="515.5" y1="79.8" x2="512.5" y2="79.8" stroke="#000" stroke-width="1"/>
<line x1="286.5" y1="83.2" x2="288.3" y2="83.2" stroke="#000" stroke-width="1"/>
<line x1="515.5" y1="83.2" x2="513.7" y2="83.2" stroke="#000" stroke-width="1"/>
<line x1="286.5" y1="90.8" x2="289.5" y2="90.8" stroke="#000" stroke-width="1"/>
<line x1="515.5" y1="90.8" x2="512.5" y2="90.8" stroke="#000" stroke-width="1"/>
<line x1="286.5" y1="94.2" x2="288.3" y2="94.2" stroke="#000" stroke-width="1"/>
<line x1="515.5" y1="94.2" x2="513.7" y2="94.2" stroke="#000" stroke-width="1"/>
<line x1="286.5" y1="101.8" x2="289.5" y2="101.8" stroke="#000" stroke-width="1"/>
<line x1="515.5" y1="101.8" x2="512.5" y2="101.8" stroke="#000" stroke-width="1"/>
<line x1="286.5" y1="105.2" x2="288.3" y2="105.2" stroke="#000" stroke-width="1"/>
<line x1="515.5" y1="105.2" x2="513.7" y2="105.2" stroke="#000" stroke-width="1"/>
<line x1="286.5" y1="112.8" x2="289.5" y2="112.8" stroke="#000" stroke-width="1"/>
<line x1="515.5" y1="112.8" x2="512.5" y2="112.8" stroke="#000" stroke-width="1"/>
<line x1="286.5" y1="116.2" x2="288.3" y2="116.2" stroke="#000" stroke-width="1"/>
<line x1="515.5" y1="116.2" x2="513.7" y2="116.2" stroke="#000" stroke-width="1"/>
<line x1="286.5" y1="123.8" x2="289.5" y2="123.8" stroke="#000" stroke-width="1"/>
<line x1="515.5" y1="123.8" x2="512.5" y2="123.8" stroke="#000" stroke-width="1"/>
<line x1="286.5" y1="127.2" x2="288.3" y2="127.2" stroke="#000" stroke-width="1"/>
<line x1="515.5" y1="127.2" x2="513.7" y2="127.2" stroke="#000" stroke-width="1"/>
<line x1="286.5" y1="134.8" x2="289.5" y2="134.8" stroke="#000" stroke-width="1"/>
<line x1="515.5" y1="134.8" x2="512.5" y2="134.8" stroke="#000" stroke-width="1"/>
<line x1="286.5" y1="138.2" x2="288.3" y2="138.2" stroke="#000" stroke-width="1"/>
<line x1="515.5" y1="138.2" x2="513.7" y2="138.2" stroke="#000" stroke-width="1"/>
<line x1="286.5" y1="145.8" x2="289.5" y2="145.8" stroke="#000" stroke-width="1"/>
<line x1="515.5" y1="145.8" x2="512.5" y2="145.8" stroke="#000" stroke-width="1"/>
<line x1="286.5" y1="149.2" x2="288.3" y2="149.2" stroke="#000" stroke-width="1"/>
<line x1="515.5" y1="149.2" x2="513.7" y2="149.2" stroke="#000" stroke-width="1"/>
<line x1="286.5" y1="156.8" x2="289.5" y2="156.8" stroke="#000" stroke-width="1"/>
<line x1="515.5" y1="156.8" x2="512.5" y2="156.8" stroke="#000" stroke-width="1"/>
<line x1="286.5" y1="160.2" x2="288.3" y2="160.2" stroke="#000" stroke-width="1"/>
<line x1="515.5" y1="160.2" x2="513.7" y2="160.2" stroke="#000" stroke-width="1"/>
<rect x="361" y="9" width="3.9" height="3" fill="#fff"/>
<line x1="359" y1="13.4" x2="363" y2="7.6" stroke="#000" stroke-width="1.1"/>
<line x1="362.7" y1="13.4" x2="367.1" y2="7.6" stroke="#000" stroke-width="1.1"/>
<rect x="361" y="167.2" width="3.9" height="3" fill="#fff"/>
<line x1="359" y1="171.6" x2="363" y2="165.8" stroke="#000" stroke-width="1.1"/>
<line x1="362.7" y1="171.6" x2="367.1" y2="165.8" stroke="#000" stroke-width="1.1"/>
<rect x="437.2" y="9" width="3.9" height="3" fill="#fff"/>
<line x1="435.2" y1="13.4" x2="439.2" y2="7.6" stroke="#000" stroke-width="1.1"/>
<line x1="438.9" y1="13.4" x2="443.3" y2="7.6" stroke="#000" stroke-width="1.1"/>
<rect x="437.2" y="167.2" width="3.9" height="3" fill="#fff"/>
<line x1="435.2" y1="171.6" x2="439.2" y2="165.8" stroke="#000" stroke-width="1.1"/>
<line x1="438.9" y1="171.6" x2="443.3" y2="165.8" stroke="#000" stroke-width="1.1"/>
<text x="287" y="178.5" font-size="8.7" fill="#222" stroke="#222" stroke-width="0.22" text-anchor="middle">18</text>
<text x="316.6" y="178.5" font-size="8.7" fill="#222" stroke="#222" stroke-width="0.22" text-anchor="middle">19</text>
<text x="346.2" y="178.5" font-size="8.7" fill="#222" stroke="#222" stroke-width="0.22" text-anchor="middle">20</text>
<text x="373" y="178.5" font-size="8.7" fill="#222" stroke="#222" stroke-width="0.22" text-anchor="middle">38</text>
<text x="387.3" y="178.5" font-size="8.7" fill="#222" stroke="#222" stroke-width="0.22" text-anchor="middle">39</text>
<text x="401.6" y="178.5" font-size="8.7" fill="#222" stroke="#222" stroke-width="0.22" text-anchor="middle">40</text>
<text x="415.9" y="178.5" font-size="8.7" fill="#222" stroke="#222" stroke-width="0.22" text-anchor="middle">41</text>
<text x="430.2" y="178.5" font-size="8.7" fill="#222" stroke="#222" stroke-width="0.22" text-anchor="middle">42</text>
<text x="441.5" y="178.5" font-size="8.7" fill="#222" stroke="#222" stroke-width="0.22" text-anchor="middle">58</text>
<text x="459.6" y="178.5" font-size="8.7" fill="#222" stroke="#222" stroke-width="0.22" text-anchor="middle">59</text>
<text x="477.7" y="178.5" font-size="8.7" fill="#222" stroke="#222" stroke-width="0.22" text-anchor="middle">60</text>
<text x="495.8" y="178.5" font-size="8.7" fill="#222" stroke="#222" stroke-width="0.22" text-anchor="middle">61</text>
<text x="513.5" y="178.5" font-size="8.7" fill="#222" stroke="#222" stroke-width="0.22" text-anchor="middle">62</text>
<text x="398" y="191" font-size="8.4" fill="#222" stroke="#222" stroke-width="0.22" text-anchor="middle">2&#920; (&#176;)</text>
<text x="282.8" y="194.3" font-size="11.3" fill="#222" stroke="#222" stroke-width="0.22" text-anchor="start">(b)</text>
<text transform="translate(277.6,85.6) rotate(-90)" font-size="8.4" fill="#222" stroke="#222" stroke-width="0.22" text-anchor="middle">Intensity (arb. units)</text>
<text x="269.7" y="7.1" font-size="8.4" fill="#9a6ee0" stroke="#9a6ee0" stroke-width="0.22" text-anchor="start">(Al<tspan font-size="5" dy="1.8">x</tspan><tspan dy="-1.8">Ga</tspan><tspan font-size="5" dy="1.8">1-x</tspan><tspan dy="-1.8">)</tspan><tspan font-size="5" dy="1.8">2</tspan><tspan dy="-1.8">O</tspan><tspan font-size="5" dy="1.8">3</tspan><tspan dy="-1.8">: (002)</tspan><tspan font-size="7" dy="0.3">&#954;</tspan></text>
<text x="375.5" y="7.1" font-size="8.4" fill="#9a6ee0" stroke="#9a6ee0" stroke-width="0.22" text-anchor="start">(004)<tspan font-size="7" dy="0.3">&#954;</tspan></text>
<text x="407.2" y="7.1" font-size="8.4" fill="#111" stroke="#111" stroke-width="0.22" text-anchor="start">Al<tspan font-size="5.5" dy="1.8">2</tspan><tspan dy="-1.8">O</tspan><tspan font-size="5.5" dy="1.8">3</tspan><tspan dy="-1.8"> (00.6)</tspan></text>
<text x="467.3" y="7.1" font-size="8.4" fill="#9a6ee0" stroke="#9a6ee0" stroke-width="0.22" text-anchor="start">(006)<tspan font-size="7" dy="0.3">&#954;</tspan></text>
<text x="331.5" y="22.4" font-size="8.2" fill="#111" stroke="#111" stroke-width="0.22" text-anchor="start"><tspan font-style="italic">T</tspan>&#8201;=&#8201;600&#176;C</text>
<text x="345.7" y="31.2" font-size="8.2" fill="#111" stroke="#111" stroke-width="0.22" text-anchor="middle"><tspan font-style="italic">p</tspan>(O<tspan font-size="5" dy="1.8">2</tspan><tspan dy="-1.8">) (mbar)</tspan></text>
<text x="302" y="42" font-size="8.4" fill="#2e9a2e" stroke="#2e9a2e" stroke-width="0.22" text-anchor="start">(<tspan text-decoration="overline">2</tspan>01)<tspan font-size="5" dy="1.5">&#946;</tspan></text>
<text x="377" y="43" font-size="8.4" fill="#2e9a2e" stroke="#2e9a2e" stroke-width="0.22" text-anchor="start">(<tspan text-decoration="overline">4</tspan>02)<tspan font-size="5" dy="1.5">&#946;</tspan></text>
<text x="453" y="43" font-size="8.4" fill="#2e9a2e" stroke="#2e9a2e" stroke-width="0.22" text-anchor="start">(<tspan text-decoration="overline">6</tspan>03)<tspan font-size="5" dy="1.5">&#946;</tspan></text>
<text x="392" y="67" font-size="8.4" fill="#111" stroke="#111" stroke-width="0.22" text-anchor="start">W(L<tspan font-size="5" dy="1.8">&#945;</tspan><tspan dy="-1.8">)</tspan></text>
<text x="356.3" y="48.6" font-size="8.4" fill="#111" stroke="#111" stroke-width="0.22" text-anchor="end">0.02</text>
<text x="356.3" y="69.3" font-size="8.4" fill="#111" stroke="#111" stroke-width="0.22" text-anchor="end">0.01</text>
<text x="356.3" y="91.1" font-size="8.4" fill="#111" stroke="#111" stroke-width="0.22" text-anchor="end">0.003</text>
<text x="356.3" y="112.6" font-size="8.4" fill="#111" stroke="#111" stroke-width="0.22" text-anchor="end">0.002</text>
<text x="356.3" y="134.7" font-size="8.4" fill="#111" stroke="#111" stroke-width="0.22" text-anchor="end">0.001</text>
<text x="357.4" y="156.5" font-size="8.4" fill="#111" stroke="#111" stroke-width="0.22" text-anchor="end">3x10<tspan font-size="5.5" dy="-3">-4</tspan></text>
<text x="288.5" y="69.1" font-size="8.4" fill="#111" stroke="#111" stroke-width="0.22" text-anchor="start">x=0.09</text>
<text x="288.5" y="90.5" font-size="8.4" fill="#111" stroke="#111" stroke-width="0.22" text-anchor="start">x=0.14</text>
<text x="288.5" y="112.6" font-size="8.4" fill="#111" stroke="#111" stroke-width="0.22" text-anchor="start">x=0.17</text>
<text x="288.5" y="134.7" font-size="8.4" fill="#111" stroke="#111" stroke-width="0.22" text-anchor="start">x=0.20</text>
<text x="288.5" y="156.5" font-size="8.4" fill="#111" stroke="#111" stroke-width="0.22" text-anchor="start">x=0.20</text>
<rect x="192.3" y="212.5" width="54.7" height="158.5" fill="#c8c8c8"/>
<line x1="32.5" y1="278.7" x2="247" y2="278.7" stroke="#78b8b8" stroke-width="1.5" stroke-dasharray="1.5,4.3"/>
<line x1="32.5" y1="367" x2="247" y2="367" stroke="#c85868" stroke-width="1.5" stroke-dasharray="1.5,4.3"/>
<polyline points="28.5,367 127,367 130,366.2 133,364 136.5,360.3 140.5,355.6 144,351.3 150.3,342.6 166.8,320.3 180,302.5 193.6,285.5 207,267 220,248 226,241.5 233,234.5 240,229 247,224.5" fill="none" stroke="#111" stroke-width="1.6" stroke-dasharray="6,4.6" stroke-dashoffset="-1.5"/>
<rect x="69.7" y="364.5" width="5" height="5" fill="#962030"/>
<path d="M70.7,365.5L73.7,368.5M73.7,365.5L70.7,368.5" stroke="#e0a0a8" stroke-width="0.8"/>
<rect x="113" y="364.5" width="5" height="5" fill="#962030"/>
<path d="M114,365.5L117,368.5M117,365.5L114,368.5" stroke="#e0a0a8" stroke-width="0.8"/>
<rect x="135.1" y="354.7" width="5" height="5" fill="#962030"/>
<path d="M136.1,355.7L139.1,358.7M139.1,355.7L136.1,358.7" stroke="#e0a0a8" stroke-width="0.8"/>
<rect x="156.9" y="324.7" width="5" height="5" fill="#962030"/>
<path d="M157.9,325.7L160.9,328.7M160.9,325.7L157.9,328.7" stroke="#e0a0a8" stroke-width="0.8"/>
<rect x="178.6" y="299.9" width="5" height="5" fill="#962030"/>
<path d="M179.6,300.9L182.6,303.9M182.6,300.9L179.6,303.9" stroke="#e0a0a8" stroke-width="0.8"/>
<rect x="200.9" y="280" width="5" height="5" fill="#962030"/>
<path d="M201.9,281L204.9,284M204.9,281L201.9,284" stroke="#e0a0a8" stroke-width="0.8"/>
<rect x="217" y="220.9" width="5" height="5" fill="#1a22e0"/>
<path d="M218,221.9L221,224.9M221,221.9L218,224.9" stroke="#8898ff" stroke-width="0.8"/>
<rect x="222.6" y="231.9" width="5" height="5" fill="#1a22e0"/>
<path d="M223.6,232.9L226.6,235.9M226.6,232.9L223.6,235.9" stroke="#8898ff" stroke-width="0.8"/>
<rect x="211.6" y="238.6" width="5" height="5" fill="#1a22e0"/>
<path d="M212.6,239.6L215.6,242.6M215.6,239.6L212.6,242.6" stroke="#8898ff" stroke-width="0.8"/>
<rect x="227.6" y="238.6" width="5" height="5" fill="#1a22e0"/>
<path d="M228.6,239.6L231.6,242.6M231.6,239.6L228.6,242.6" stroke="#8898ff" stroke-width="0.8"/>
<rect x="206.1" y="256" width="5" height="5" fill="#1a22e0"/>
<path d="M207.1,257L210.1,260M210.1,257L207.1,260" stroke="#8898ff" stroke-width="0.8"/>
<rect x="200.5" y="260.6" width="5" height="5" fill="#1a22e0"/>
<path d="M201.5,261.6L204.5,264.6M204.5,261.6L201.5,264.6" stroke="#8898ff" stroke-width="0.8"/>
<rect x="189.9" y="279.6" width="5" height="5" fill="#1a22e0"/>
<path d="M190.9,280.6L193.9,283.6M193.9,280.6L190.9,283.6" stroke="#8898ff" stroke-width="0.8"/>
<rect x="216.9" y="234" width="5.2" height="5.2" rx="1.6" fill="#f2a24a"/>
<rect x="205.4" y="238.9" width="5.2" height="5.2" rx="1.6" fill="#f2a24a"/>
<rect x="195.4" y="278.5" width="5.2" height="5.2" rx="1.6" fill="#f2a24a"/>
<rect x="28.5" y="212.5" width="218.5" height="158.5" fill="none" stroke="#000" stroke-width="1.5"/>
<line x1="28.5" y1="371" x2="28.5" y2="368" stroke="#000" stroke-width="1"/>
<line x1="28.5" y1="212.5" x2="28.5" y2="215.5" stroke="#000" stroke-width="1"/>
<line x1="39.4" y1="371" x2="39.4" y2="369.2" stroke="#000" stroke-width="1"/>
<line x1="39.4" y1="212.5" x2="39.4" y2="214.3" stroke="#000" stroke-width="1"/>
<line x1="50.4" y1="371" x2="50.4" y2="368" stroke="#000" stroke-width="1"/>
<line x1="50.4" y1="212.5" x2="50.4" y2="215.5" stroke="#000" stroke-width="1"/>
<line x1="61.3" y1="371" x2="61.3" y2="369.2" stroke="#000" stroke-width="1"/>
<line x1="61.3" y1="212.5" x2="61.3" y2="214.3" stroke="#000" stroke-width="1"/>
<line x1="72.2" y1="371" x2="72.2" y2="368" stroke="#000" stroke-width="1"/>
<line x1="72.2" y1="212.5" x2="72.2" y2="215.5" stroke="#000" stroke-width="1"/>
<line x1="83.1" y1="371" x2="83.1" y2="369.2" stroke="#000" stroke-width="1"/>
<line x1="83.1" y1="212.5" x2="83.1" y2="214.3" stroke="#000" stroke-width="1"/>
<line x1="94.1" y1="371" x2="94.1" y2="368" stroke="#000" stroke-width="1"/>
<line x1="94.1" y1="212.5" x2="94.1" y2="215.5" stroke="#000" stroke-width="1"/>
<line x1="105" y1="371" x2="105" y2="369.2" stroke="#000" stroke-width="1"/>
<line x1="105" y1="212.5" x2="105" y2="214.3" stroke="#000" stroke-width="1"/>
<line x1="115.9" y1="371" x2="115.9" y2="368" stroke="#000" stroke-width="1"/>
<line x1="115.9" y1="212.5" x2="115.9" y2="215.5" stroke="#000" stroke-width="1"/>
<line x1="126.8" y1="371" x2="126.8" y2="369.2" stroke="#000" stroke-width="1"/>
<line x1="126.8" y1="212.5" x2="126.8" y2="214.3" stroke="#000" stroke-width="1"/>
<line x1="137.8" y1="371" x2="137.8" y2="368" stroke="#000" stroke-width="1"/>
<line x1="137.8" y1="212.5" x2="137.8" y2="215.5" stroke="#000" stroke-width="1"/>
<line x1="148.7" y1="371" x2="148.7" y2="369.2" stroke="#000" stroke-width="1"/>
<line x1="148.7" y1="212.5" x2="148.7" y2="214.3" stroke="#000" stroke-width="1"/>
<line x1="159.6" y1="371" x2="159.6" y2="368" stroke="#000" stroke-width="1"/>
<line x1="159.6" y1="212.5" x2="159.6" y2="215.5" stroke="#000" stroke-width="1"/>
<line x1="170.5" y1="371" x2="170.5" y2="369.2" stroke="#000" stroke-width="1"/>
<line x1="170.5" y1="212.5" x2="170.5" y2="214.3" stroke="#000" stroke-width="1"/>
<line x1="181.5" y1="371" x2="181.5" y2="368" stroke="#000" stroke-width="1"/>
<line x1="181.5" y1="212.5" x2="181.5" y2="215.5" stroke="#000" stroke-width="1"/>
<line x1="192.4" y1="371" x2="192.4" y2="369.2" stroke="#000" stroke-width="1"/>
<line x1="192.4" y1="212.5" x2="192.4" y2="214.3" stroke="#000" stroke-width="1"/>
<line x1="203.3" y1="371" x2="203.3" y2="368" stroke="#000" stroke-width="1"/>
<line x1="203.3" y1="212.5" x2="203.3" y2="215.5" stroke="#000" stroke-width="1"/>
<line x1="214.2" y1="371" x2="214.2" y2="369.2" stroke="#000" stroke-width="1"/>
<line x1="214.2" y1="212.5" x2="214.2" y2="214.3" stroke="#000" stroke-width="1"/>
<line x1="225.2" y1="371" x2="225.2" y2="368" stroke="#000" stroke-width="1"/>
<line x1="225.2" y1="212.5" x2="225.2" y2="215.5" stroke="#000" stroke-width="1"/>
<line x1="236.1" y1="371" x2="236.1" y2="369.2" stroke="#000" stroke-width="1"/>
<line x1="236.1" y1="212.5" x2="236.1" y2="214.3" stroke="#000" stroke-width="1"/>
<line x1="247" y1="371" x2="247" y2="368" stroke="#000" stroke-width="1"/>
<line x1="247" y1="212.5" x2="247" y2="215.5" stroke="#000" stroke-width="1"/>
<line x1="28.5" y1="367" x2="31.5" y2="367" stroke="#000" stroke-width="1"/>
<line x1="247" y1="367" x2="244" y2="367" stroke="#000" stroke-width="1"/>
<line x1="28.5" y1="356" x2="30.3" y2="356" stroke="#000" stroke-width="1"/>
<line x1="247" y1="356" x2="245.2" y2="356" stroke="#000" stroke-width="1"/>
<line x1="28.5" y1="344.9" x2="31.5" y2="344.9" stroke="#000" stroke-width="1"/>
<line x1="247" y1="344.9" x2="244" y2="344.9" stroke="#000" stroke-width="1"/>
<line x1="28.5" y1="333.9" x2="30.3" y2="333.9" stroke="#000" stroke-width="1"/>
<line x1="247" y1="333.9" x2="245.2" y2="333.9" stroke="#000" stroke-width="1"/>
<line x1="28.5" y1="322.9" x2="31.5" y2="322.9" stroke="#000" stroke-width="1"/>
<line x1="247" y1="322.9" x2="244" y2="322.9" stroke="#000" stroke-width="1"/>
<line x1="28.5" y1="311.8" x2="30.3" y2="311.8" stroke="#000" stroke-width="1"/>
<line x1="247" y1="311.8" x2="245.2" y2="311.8" stroke="#000" stroke-width="1"/>
<line x1="28.5" y1="300.8" x2="31.5" y2="300.8" stroke="#000" stroke-width="1"/>
<line x1="247" y1="300.8" x2="244" y2="300.8" stroke="#000" stroke-width="1"/>
<line x1="28.5" y1="289.8" x2="30.3" y2="289.8" stroke="#000" stroke-width="1"/>
<line x1="247" y1="289.8" x2="245.2" y2="289.8" stroke="#000" stroke-width="1"/>
<line x1="28.5" y1="278.7" x2="31.5" y2="278.7" stroke="#000" stroke-width="1"/>
<line x1="247" y1="278.7" x2="244" y2="278.7" stroke="#000" stroke-width="1"/>
<line x1="28.5" y1="267.7" x2="30.3" y2="267.7" stroke="#000" stroke-width="1"/>
<line x1="247" y1="267.7" x2="245.2" y2="267.7" stroke="#000" stroke-width="1"/>
<line x1="28.5" y1="256.6" x2="31.5" y2="256.6" stroke="#000" stroke-width="1"/>
<line x1="247" y1="256.6" x2="244" y2="256.6" stroke="#000" stroke-width="1"/>
<line x1="28.5" y1="245.6" x2="30.3" y2="245.6" stroke="#000" stroke-width="1"/>
<line x1="247" y1="245.6" x2="245.2" y2="245.6" stroke="#000" stroke-width="1"/>
<line x1="28.5" y1="234.6" x2="31.5" y2="234.6" stroke="#000" stroke-width="1"/>
<line x1="247" y1="234.6" x2="244" y2="234.6" stroke="#000" stroke-width="1"/>
<line x1="28.5" y1="223.5" x2="30.3" y2="223.5" stroke="#000" stroke-width="1"/>
<line x1="247" y1="223.5" x2="245.2" y2="223.5" stroke="#000" stroke-width="1"/>
<line x1="28.5" y1="212.5" x2="31.5" y2="212.5" stroke="#000" stroke-width="1"/>
<line x1="247" y1="212.5" x2="244" y2="212.5" stroke="#000" stroke-width="1"/>
<text x="28.5" y="381" font-size="8.6" fill="#222" stroke="#222" stroke-width="0.22" text-anchor="middle">0</text>
<text x="50.4" y="381" font-size="8.6" fill="#222" stroke="#222" stroke-width="0.22" text-anchor="middle">1</text>
<text x="72.2" y="381" font-size="8.6" fill="#222" stroke="#222" stroke-width="0.22" text-anchor="middle">2</text>
<text x="94.1" y="381" font-size="8.6" fill="#222" stroke="#222" stroke-width="0.22" text-anchor="middle">3</text>
<text x="115.9" y="381" font-size="8.6" fill="#222" stroke="#222" stroke-width="0.22" text-anchor="middle">4</text>
<text x="137.8" y="381" font-size="8.6" fill="#222" stroke="#222" stroke-width="0.22" text-anchor="middle">5</text>
<text x="159.6" y="381" font-size="8.6" fill="#222" stroke="#222" stroke-width="0.22" text-anchor="middle">6</text>
<text x="181.5" y="381" font-size="8.6" fill="#222" stroke="#222" stroke-width="0.22" text-anchor="middle">7</text>
<text x="203.3" y="381" font-size="8.6" fill="#222" stroke="#222" stroke-width="0.22" text-anchor="middle">8</text>
<text x="225.2" y="381" font-size="8.6" fill="#222" stroke="#222" stroke-width="0.22" text-anchor="middle">9</text>
<text x="247" y="381" font-size="8.6" fill="#222" stroke="#222" stroke-width="0.22" text-anchor="middle">10</text>
<text x="25.5" y="369.4" font-size="8.6" fill="#222" stroke="#222" stroke-width="0.22" text-anchor="end">0</text>
<text x="25.5" y="347.3" font-size="8.6" fill="#222" stroke="#222" stroke-width="0.22" text-anchor="end">10</text>
<text x="25.5" y="325.3" font-size="8.6" fill="#222" stroke="#222" stroke-width="0.22" text-anchor="end">20</text>
<text x="25.5" y="303.2" font-size="8.6" fill="#222" stroke="#222" stroke-width="0.22" text-anchor="end">30</text>
<text x="25.5" y="281.1" font-size="8.6" fill="#222" stroke="#222" stroke-width="0.22" text-anchor="end">40</text>
<text x="25.5" y="259" font-size="8.6" fill="#222" stroke="#222" stroke-width="0.22" text-anchor="end">50</text>
<text x="25.5" y="237" font-size="8.6" fill="#222" stroke="#222" stroke-width="0.22" text-anchor="end">60</text>
<text x="25.5" y="214.9" font-size="8.6" fill="#222" stroke="#222" stroke-width="0.22" text-anchor="end">70</text>
<text x="117.3" y="391" font-size="8.5" fill="#222" stroke="#222" stroke-width="0.22" text-anchor="start"><tspan font-style="italic">r</tspan><tspan font-size="5.3" dy="1.8">PLD</tspan><tspan dy="-1.8"> (mm)</tspan></text>
<text x="21.1" y="397" font-size="11.3" fill="#222" stroke="#222" stroke-width="0.22" text-anchor="start">(c)</text>
<text transform="translate(7.5,288.5) rotate(-90)" font-size="9" fill="#222" stroke="#222" stroke-width="0.22" text-anchor="middle">Al-content <tspan font-style="italic">x</tspan> (at.%)</text>
<line x1="34.9" y1="222.8" x2="39.5" y2="222.8" stroke="#111" stroke-width="1.8"/>
<line x1="46" y1="222.8" x2="51.1" y2="222.8" stroke="#111" stroke-width="1.8"/>
<text x="57" y="225.8" font-size="8.5" fill="#222" stroke="#222" stroke-width="0.22" text-anchor="start">model</text>
<rect x="42.8" y="231.1" width="5" height="5" fill="#962030"/>
<path d="M43.8,232.1L46.8,235.1M46.8,232.1L43.8,235.1" stroke="#e0a0a8" stroke-width="0.8"/>
<text x="57" y="236.3" font-size="8.5" fill="#222" stroke="#222" stroke-width="0.22" text-anchor="start">Al-content measured by EDX</text>
<rect x="42.8" y="241.5" width="5" height="5" fill="#1a22e0"/>
<path d="M43.8,242.5L46.8,245.5M46.8,242.5L43.8,245.5" stroke="#8898ff" stroke-width="0.8"/>
<text x="57" y="246.7" font-size="8.5" fill="#222" stroke="#222" stroke-width="0.22" text-anchor="start">Al-content deduced by XRD</text>
<rect x="42.7" y="251.8" width="5.2" height="5.2" rx="1.6" fill="#f2a24a"/>
<text x="57" y="257.1" font-size="8.5" fill="#222" stroke="#222" stroke-width="0.22" text-anchor="start">Al-content measured by XPS</text>
<text x="39" y="289" font-size="8.6" fill="#58c0c8" stroke="#58c0c8" stroke-width="0" text-anchor="start" letter-spacing="0.1">outer segment Al content</text>
<text x="148.4" y="362.6" font-size="8.6" fill="#cc3848" stroke="#cc3848" stroke-width="0.08" text-anchor="start">inner segment Al content</text>
<text x="204" y="308.8" font-size="8.5" fill="#222" stroke="#222" stroke-width="0.22" text-anchor="start">addditional</text>
<text x="204" y="319.8" font-size="8.5" fill="#222" stroke="#222" stroke-width="0.22" text-anchor="start">&#954;-Ga<tspan font-size="5.8" dy="2.6">2</tspan><tspan dy="-2.6">O</tspan><tspan font-size="5.8" dy="2.6">3</tspan></text>
<text x="204" y="333" font-size="8.5" fill="#222" stroke="#222" stroke-width="0.22" text-anchor="start">template</text>
<circle cx="94" cy="327.5" r="28" fill="#74c2c6"/>
<rect x="85.7" y="308.1" width="17.5" height="40.1" rx="8.5" fill="#e04a4a"/>
<circle cx="95" cy="325.7" r="11.9" fill="#8056b4" opacity="0.75"/>
<circle cx="95" cy="325.7" r="7" fill="#c84a5a" opacity="0.75"/>
<path d="M93,296.5 Q120,302 127.5,326" fill="none" stroke="#222" stroke-width="1"/>
<path d="M125.5,324 L127.6,328.5 L129.5,323.8 Z" fill="#222"/>
<line x1="64" y1="306.5" x2="88.3" y2="311.1" stroke="#111" stroke-width="1.1"/>
<line x1="63" y1="324.2" x2="72.4" y2="324.2" stroke="#111" stroke-width="1.1"/>
<line x1="64" y1="341.8" x2="83" y2="327" stroke="#111" stroke-width="1.1"/>
<text x="82" y="325" font-size="7" fill="#111" stroke="#111" stroke-width="0.22" text-anchor="start"><tspan font-style="italic">r</tspan></text>
<text x="86" y="326" font-size="6.5" fill="#111" stroke="#111" stroke-width="0.22" text-anchor="start">10</text>
<text x="41" y="310" font-size="9.5" fill="#e46262" stroke="#e46262" stroke-width="0" text-anchor="start">A<tspan font-size="5.5" dy="1.8">y</tspan><tspan dy="-1.8">B</tspan><tspan font-size="5.5" dy="1.8">1-y</tspan></text>
<text x="41" y="329" font-size="9.5" fill="#b4dadc" stroke="#b4dadc" stroke-width="0" text-anchor="start">A<tspan font-size="5.5" dy="1.8">x</tspan><tspan dy="-1.8">B</tspan><tspan font-size="5.5" dy="1.8">1-x</tspan></text>
<text x="41" y="340.7" font-size="9.5" fill="#6454a0" stroke="#6454a0" stroke-width="0" text-anchor="start">Laser</text>
<text x="41" y="351.3" font-size="9.5" fill="#6454a0" stroke="#6454a0" stroke-width="0" text-anchor="start">track</text>
<rect x="412.2" y="213" width="99.3" height="159" fill="#c6c6c6"/>
<rect x="394.5" y="213" width="117" height="57.8" fill="none" stroke="#888" stroke-width="0.8"/>
<line x1="335.5" y1="226" x2="360.8" y2="303.5" stroke="#1a8a1a" stroke-width="1.2"/>
<path d="M361.8,307.5 L357.6,301 L362.6,300 Z" fill="#1a8a1a"/>
<line x1="325.1" y1="265" x2="392.5" y2="343.5" stroke="#d02020" stroke-width="1.2"/>
<path d="M395.5,347 L388.5,342.8 L392.3,339.3 Z" fill="#d02020"/>
<rect x="309.1" y="272.6" width="4.0" height="4.0" fill="#1028e8"/>
<rect x="315" y="281.5" width="4.0" height="4.0" fill="#1028e8"/>
<rect x="320.9" y="278.6" width="4.0" height="4.0" fill="#1028e8"/>
<rect x="337.1" y="304.7" width="4.0" height="4.0" fill="#1028e8"/>
<rect x="353.1" y="308.7" width="4.0" height="4.0" fill="#1028e8"/>
<rect x="367" y="313.1" width="4.0" height="4.0" fill="#1028e8"/>
<rect x="386.8" y="296.4" width="4.0" height="4.0" fill="#1028e8"/>
<rect x="402.4" y="321.2" width="4.0" height="4.0" fill="#1028e8"/>
<rect x="429.1" y="323.4" width="4.0" height="4.0" fill="#1028e8"/>
<rect x="450.5" y="331" width="4.0" height="4.0" fill="#1028e8"/>
<rect x="469.4" y="331" width="4.0" height="4.0" fill="#1028e8"/>
<rect x="482.8" y="336.1" width="4.0" height="4.0" fill="#1028e8"/>
<rect x="333" y="220" width="4.0" height="4.0" fill="#127a12"/>
<rect x="346.2" y="270.1" width="4.0" height="4.0" fill="#127a12"/>
<rect x="361.7" y="308.7" width="4.0" height="4.0" fill="#127a12"/>
<path d="M318.5,274.5 L316,278.8 L321,278.8 Z" fill="none" stroke="#3048e8" stroke-width="1.1" stroke-linejoin="round"/>
<path d="M313,278.2 L310.5,282.5 L315.5,282.5 Z" fill="none" stroke="#3048e8" stroke-width="1.1" stroke-linejoin="round"/>
<path d="M312.2,281.4 L309.8,285.6 L314.8,285.6 Z" fill="none" stroke="#3048e8" stroke-width="1.1" stroke-linejoin="round"/>
<path d="M344.2,269.5 L341.8,273.8 L346.8,273.8 Z" fill="none" stroke="#3048e8" stroke-width="1.1" stroke-linejoin="round"/>
<path d="M355.1,269.5 L352.6,273.8 L357.6,273.8 Z" fill="none" stroke="#3048e8" stroke-width="1.1" stroke-linejoin="round"/>
<path d="M378,265.6 L375.5,269.9 L380.5,269.9 Z" fill="none" stroke="#3048e8" stroke-width="1.1" stroke-linejoin="round"/>
<path d="M391,269.1 L388.5,273.4 L393.5,273.4 Z" fill="none" stroke="#3048e8" stroke-width="1.1" stroke-linejoin="round"/>
<path d="M323.6,258.2 L321.1,262.5 L326.1,262.5 Z" fill="none" stroke="#e85060" stroke-width="1.1" stroke-linejoin="round"/>
<path d="M332.2,263 L329.8,267.3 L334.8,267.3 Z" fill="none" stroke="#e85060" stroke-width="1.1" stroke-linejoin="round"/>
<path d="M337.2,285.1 L334.8,289.4 L339.8,289.4 Z" fill="none" stroke="#e85060" stroke-width="1.1" stroke-linejoin="round"/>
<path d="M377.4,330.6 L374.9,334.9 L379.9,334.9 Z" fill="none" stroke="#e85060" stroke-width="1.1" stroke-linejoin="round"/>
<path d="M382.6,335 L380.1,339.3 L385.1,339.3 Z" fill="none" stroke="#e85060" stroke-width="1.1" stroke-linejoin="round"/>
<path d="M399,348.6 L396.5,352.9 L401.5,352.9 Z" fill="none" stroke="#e85060" stroke-width="1.1" stroke-linejoin="round"/>
<rect x="297.5" y="213" width="214.0" height="159" fill="none" stroke="#000" stroke-width="1.5"/>
<line x1="310.8" y1="372" x2="310.8" y2="369" stroke="#000" stroke-width="1"/>
<line x1="310.8" y1="213" x2="310.8" y2="216" stroke="#000" stroke-width="1"/>
<line x1="324.2" y1="372" x2="324.2" y2="370.2" stroke="#000" stroke-width="1"/>
<line x1="324.2" y1="213" x2="324.2" y2="214.8" stroke="#000" stroke-width="1"/>
<line x1="337.6" y1="372" x2="337.6" y2="369" stroke="#000" stroke-width="1"/>
<line x1="337.6" y1="213" x2="337.6" y2="216" stroke="#000" stroke-width="1"/>
<line x1="350.9" y1="372" x2="350.9" y2="370.2" stroke="#000" stroke-width="1"/>
<line x1="350.9" y1="213" x2="350.9" y2="214.8" stroke="#000" stroke-width="1"/>
<line x1="364.3" y1="372" x2="364.3" y2="369" stroke="#000" stroke-width="1"/>
<line x1="364.3" y1="213" x2="364.3" y2="216" stroke="#000" stroke-width="1"/>
<line x1="377.7" y1="372" x2="377.7" y2="370.2" stroke="#000" stroke-width="1"/>
<line x1="377.7" y1="213" x2="377.7" y2="214.8" stroke="#000" stroke-width="1"/>
<line x1="391.1" y1="372" x2="391.1" y2="369" stroke="#000" stroke-width="1"/>
<line x1="391.1" y1="213" x2="391.1" y2="216" stroke="#000" stroke-width="1"/>
<line x1="404.5" y1="372" x2="404.5" y2="370.2" stroke="#000" stroke-width="1"/>
<line x1="404.5" y1="213" x2="404.5" y2="214.8" stroke="#000" stroke-width="1"/>
<line x1="417.8" y1="372" x2="417.8" y2="369" stroke="#000" stroke-width="1"/>
<line x1="417.8" y1="213" x2="417.8" y2="216" stroke="#000" stroke-width="1"/>
<line x1="431.2" y1="372" x2="431.2" y2="370.2" stroke="#000" stroke-width="1"/>
<line x1="431.2" y1="213" x2="431.2" y2="214.8" stroke="#000" stroke-width="1"/>
<line x1="444.6" y1="372" x2="444.6" y2="369" stroke="#000" stroke-width="1"/>
<line x1="444.6" y1="213" x2="444.6" y2="216" stroke="#000" stroke-width="1"/>
<line x1="458" y1="372" x2="458" y2="370.2" stroke="#000" stroke-width="1"/>
<line x1="458" y1="213" x2="458" y2="214.8" stroke="#000" stroke-width="1"/>
<line x1="471.4" y1="372" x2="471.4" y2="369" stroke="#000" stroke-width="1"/>
<line x1="471.4" y1="213" x2="471.4" y2="216" stroke="#000" stroke-width="1"/>
<line x1="484.7" y1="372" x2="484.7" y2="370.2" stroke="#000" stroke-width="1"/>
<line x1="484.7" y1="213" x2="484.7" y2="214.8" stroke="#000" stroke-width="1"/>
<line x1="498.1" y1="372" x2="498.1" y2="369" stroke="#000" stroke-width="1"/>
<line x1="498.1" y1="213" x2="498.1" y2="216" stroke="#000" stroke-width="1"/>
<line x1="297.5" y1="360.8" x2="300.5" y2="360.8" stroke="#000" stroke-width="1"/>
<line x1="511.5" y1="360.8" x2="508.5" y2="360.8" stroke="#000" stroke-width="1"/>
<line x1="297.5" y1="349.4" x2="299.3" y2="349.4" stroke="#000" stroke-width="1"/>
<line x1="511.5" y1="349.4" x2="509.7" y2="349.4" stroke="#000" stroke-width="1"/>
<line x1="297.5" y1="338.1" x2="300.5" y2="338.1" stroke="#000" stroke-width="1"/>
<line x1="511.5" y1="338.1" x2="508.5" y2="338.1" stroke="#000" stroke-width="1"/>
<line x1="297.5" y1="326.7" x2="299.3" y2="326.7" stroke="#000" stroke-width="1"/>
<line x1="511.5" y1="326.7" x2="509.7" y2="326.7" stroke="#000" stroke-width="1"/>
<line x1="297.5" y1="315.3" x2="300.5" y2="315.3" stroke="#000" stroke-width="1"/>
<line x1="511.5" y1="315.3" x2="508.5" y2="315.3" stroke="#000" stroke-width="1"/>
<line x1="297.5" y1="304" x2="299.3" y2="304" stroke="#000" stroke-width="1"/>
<line x1="511.5" y1="304" x2="509.7" y2="304" stroke="#000" stroke-width="1"/>
<line x1="297.5" y1="292.6" x2="300.5" y2="292.6" stroke="#000" stroke-width="1"/>
<line x1="511.5" y1="292.6" x2="508.5" y2="292.6" stroke="#000" stroke-width="1"/>
<line x1="297.5" y1="281.2" x2="299.3" y2="281.2" stroke="#000" stroke-width="1"/>
<line x1="511.5" y1="281.2" x2="509.7" y2="281.2" stroke="#000" stroke-width="1"/>
<line x1="297.5" y1="269.9" x2="300.5" y2="269.9" stroke="#000" stroke-width="1"/>
<line x1="511.5" y1="269.9" x2="508.5" y2="269.9" stroke="#000" stroke-width="1"/>
<line x1="297.5" y1="258.5" x2="299.3" y2="258.5" stroke="#000" stroke-width="1"/>
<line x1="511.5" y1="258.5" x2="509.7" y2="258.5" stroke="#000" stroke-width="1"/>
<line x1="297.5" y1="247.1" x2="300.5" y2="247.1" stroke="#000" stroke-width="1"/>
<line x1="511.5" y1="247.1" x2="508.5" y2="247.1" stroke="#000" stroke-width="1"/>
<line x1="297.5" y1="235.8" x2="299.3" y2="235.8" stroke="#000" stroke-width="1"/>
<line x1="511.5" y1="235.8" x2="509.7" y2="235.8" stroke="#000" stroke-width="1"/>
<line x1="297.5" y1="224.4" x2="300.5" y2="224.4" stroke="#000" stroke-width="1"/>
<line x1="511.5" y1="224.4" x2="508.5" y2="224.4" stroke="#000" stroke-width="1"/>
<line x1="297.5" y1="213" x2="299.3" y2="213" stroke="#000" stroke-width="1"/>
<line x1="511.5" y1="213" x2="509.7" y2="213" stroke="#000" stroke-width="1"/>
<text x="310.8" y="382.3" font-size="9.4" fill="#222" stroke="#222" stroke-width="0.22" text-anchor="middle">0</text>
<text x="337.6" y="382.3" font-size="9.4" fill="#222" stroke="#222" stroke-width="0.22" text-anchor="middle">10</text>
<text x="364.3" y="382.3" font-size="9.4" fill="#222" stroke="#222" stroke-width="0.22" text-anchor="middle">20</text>
<text x="391.1" y="382.3" font-size="9.4" fill="#222" stroke="#222" stroke-width="0.22" text-anchor="middle">30</text>
<text x="417.8" y="382.3" font-size="9.4" fill="#222" stroke="#222" stroke-width="0.22" text-anchor="middle">40</text>
<text x="444.6" y="382.3" font-size="9.4" fill="#222" stroke="#222" stroke-width="0.22" text-anchor="middle">50</text>
<text x="471.4" y="382.3" font-size="9.4" fill="#222" stroke="#222" stroke-width="0.22" text-anchor="middle">60</text>
<text x="498.1" y="382.3" font-size="9.4" fill="#222" stroke="#222" stroke-width="0.22" text-anchor="middle">70</text>
<text x="294.3" y="364.1" font-size="9.4" fill="#222" stroke="#222" stroke-width="0.22" text-anchor="end">10</text>
<text x="294.3" y="341.4" font-size="9.4" fill="#222" stroke="#222" stroke-width="0.22" text-anchor="end">15</text>
<text x="294.3" y="318.6" font-size="9.4" fill="#222" stroke="#222" stroke-width="0.22" text-anchor="end">20</text>
<text x="294.3" y="295.9" font-size="9.4" fill="#222" stroke="#222" stroke-width="0.22" text-anchor="end">25</text>
<text x="294.3" y="273.2" font-size="9.4" fill="#222" stroke="#222" stroke-width="0.22" text-anchor="end">30</text>
<text x="294.3" y="250.4" font-size="9.4" fill="#222" stroke="#222" stroke-width="0.22" text-anchor="end">35</text>
<text x="294.3" y="227.7" font-size="9.4" fill="#222" stroke="#222" stroke-width="0.22" text-anchor="end">40</text>
<text x="400" y="395" font-size="9.6" fill="#222" stroke="#222" stroke-width="0.22" text-anchor="middle">Al-content <tspan font-style="italic">x</tspan> (at.%)</text>
<text x="283" y="396.5" font-size="11.3" fill="#222" stroke="#222" stroke-width="0.22" text-anchor="start">(d)</text>
<text transform="translate(277,287.5) rotate(-90)" font-size="10" fill="#222" stroke="#222" stroke-width="0.22" text-anchor="middle">Growth rate (pm/pulse)</text>
<rect x="402.6" y="221.9" width="3.8" height="3.8" fill="#1028e8"/>
<rect x="402.6" y="235.1" width="3.8" height="3.8" fill="#127a12"/>
<path d="M404.5,247.9 L402,252.2 L407,252.2 Z" fill="none" stroke="#3048e8" stroke-width="1.1" stroke-linejoin="round"/>
<path d="M404.5,260.9 L402,265.2 L407,265.2 Z" fill="none" stroke="#e85060" stroke-width="1.1" stroke-linejoin="round"/>
<text x="416.3" y="226.6" font-size="8.2" fill="#222" stroke="#222" stroke-width="0.22" text-anchor="start">&#954;-Ga<tspan font-size="5.3" dy="2.4">2</tspan><tspan dy="-2.4">O</tspan><tspan font-size="5.3" dy="2.4">3</tspan><tspan dy="-2.4">;</tspan> <tspan font-style="italic">p</tspan>(O<tspan font-size="5.3" dy="2.4">2</tspan><tspan dy="-2.4">)</tspan> constant</text>
<text x="416.3" y="239.8" font-size="8.2" fill="#222" stroke="#222" stroke-width="0.22" text-anchor="start">&#954;-Ga<tspan font-size="5.3" dy="2.4">2</tspan><tspan dy="-2.4">O</tspan><tspan font-size="5.3" dy="2.4">3</tspan><tspan dy="-2.4">;</tspan> <tspan font-style="italic">p</tspan>(O<tspan font-size="5.3" dy="2.4">2</tspan><tspan dy="-2.4">)</tspan> varied</text>
<text x="416.3" y="253" font-size="8.2" fill="#222" stroke="#222" stroke-width="0.22" text-anchor="start">&#946;-Ga<tspan font-size="5.3" dy="2.4">2</tspan><tspan dy="-2.4">O</tspan><tspan font-size="5.3" dy="2.4">3</tspan><tspan dy="-2.4">;</tspan> <tspan font-style="italic">p</tspan>(O<tspan font-size="5.3" dy="2.4">2</tspan><tspan dy="-2.4">)</tspan> constant</text>
<text x="416.3" y="266.2" font-size="8.2" fill="#222" stroke="#222" stroke-width="0.22" text-anchor="start">&#946;-Ga<tspan font-size="5.3" dy="2.4">2</tspan><tspan dy="-2.4">O</tspan><tspan font-size="5.3" dy="2.4">3</tspan><tspan dy="-2.4">;</tspan> <tspan font-style="italic">p</tspan>(O<tspan font-size="5.3" dy="2.4">2</tspan><tspan dy="-2.4">)</tspan> varied [39]</text>
<text x="422.5" y="282.3" font-size="9.7" fill="#2434e0" stroke="#2434e0" stroke-width="0.3" text-anchor="start"><tspan font-style="italic">p</tspan>(O<tspan font-size="6.3" dy="2.8">2</tspan><tspan dy="-2.8">)</tspan> = 0.002 mbar</text>
<text x="436.9" y="298.9" font-size="9.7" fill="#2434e0" stroke="#2434e0" stroke-width="0.3" text-anchor="start"><tspan font-style="italic">T</tspan><tspan font-size="6" dy="2">g</tspan><tspan dy="-2"> = 600&#176;C</tspan></text>
<text x="304.2" y="234.2" font-size="9.6" fill="#389838" stroke="#389838" stroke-width="0.12" text-anchor="start"><tspan font-style="italic">p</tspan>(O<tspan font-size="6.3" dy="2.8">2</tspan><tspan dy="-2.8">)</tspan> = 0.01 mbar</text>
<text x="301.5" y="256.3" font-size="9.6" fill="#e03a48" stroke="#e03a48" stroke-width="0.12" text-anchor="start"><tspan font-style="italic">p</tspan>(O<tspan font-size="6.3" dy="2.8">2</tspan><tspan dy="-2.8">)</tspan> = 0.02 mbar</text>
<text x="372.7" y="315.2" font-size="9.6" fill="#389838" stroke="#389838" stroke-width="0.12" text-anchor="start"><tspan font-style="italic">p</tspan>(O<tspan font-size="6.3" dy="2.8">2</tspan><tspan dy="-2.8">)</tspan> = 3&#183;10<tspan font-size="6" dy="-3.5">-4</tspan><tspan dy="3.5"> mbar</tspan></text>
<text x="324.8" y="364.9" font-size="9.6" fill="#e03a48" stroke="#e03a48" stroke-width="0.12" text-anchor="start"><tspan font-style="italic">p</tspan>(O<tspan font-size="6.3" dy="2.8">2</tspan><tspan dy="-2.8">)</tspan> = 3&#183;10<tspan font-size="6" dy="-3.5">-4</tspan><tspan dy="3.5"> mbar</tspan></text>
<text x="417" y="352.6" font-size="9.6" fill="#222" stroke="#222" stroke-width="0.22" text-anchor="start">additional<tspan x="460.3">&#954;-Ga</tspan><tspan font-size="6.8" dy="2.6">2</tspan><tspan dy="-2.6">O</tspan><tspan font-size="6.8" dy="2.6">3</tspan></text>
<text x="417" y="366.6" font-size="9.6" fill="#222" stroke="#222" stroke-width="0.22" text-anchor="start">template</text>
</svg>
</body></html>
